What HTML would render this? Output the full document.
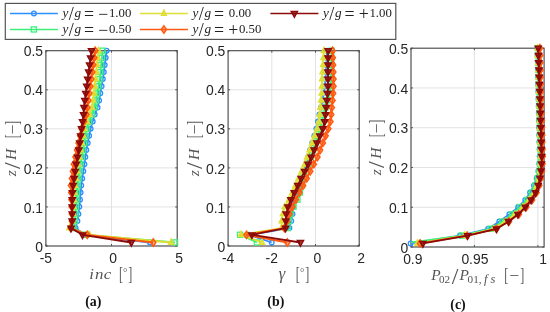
<!DOCTYPE html>
<html><head><meta charset="utf-8"><title>Figure</title>
<style>html,body{margin:0;padding:0;background:#fff}svg{display:block}text{white-space:pre}</style></head>
<body>
<svg width="550" height="312" viewBox="0 0 550 312">
<style>
.tk{font-family:"Liberation Sans",sans-serif;font-size:13.9px;fill:#262626}
.lb{font-family:"Liberation Serif",serif;font-size:14px;fill:#555}
.lg{font-family:"Liberation Serif",serif;font-size:12.8px;fill:#222}
.cap{font-family:"Liberation Serif",serif;font-weight:bold;font-size:13.9px;fill:#111}
i{font-style:italic}
</style>
<rect width="550" height="312" fill="#fff"/>
<rect x="45.9" y="50.7" width="131.29999999999998" height="195.3" fill="#fff"/>
<line x1="111.5" y1="50.7" x2="111.5" y2="246.0" stroke="#dfdfdf" stroke-width="0.9"/>
<line x1="45.9" y1="206.94" x2="177.2" y2="206.94" stroke="#dfdfdf" stroke-width="0.9"/>
<line x1="45.9" y1="167.88" x2="177.2" y2="167.88" stroke="#dfdfdf" stroke-width="0.9"/>
<line x1="45.9" y1="128.82" x2="177.2" y2="128.82" stroke="#dfdfdf" stroke-width="0.9"/>
<line x1="45.9" y1="89.75999999999999" x2="177.2" y2="89.75999999999999" stroke="#dfdfdf" stroke-width="0.9"/>
<rect x="45.9" y="50.7" width="131.29999999999998" height="195.3" fill="none" stroke="#4a4a4a" stroke-width="1.15"/>
<line x1="45.9" y1="246.0" x2="45.9" y2="244.0" stroke="#4a4a4a" stroke-width="0.9"/>
<line x1="45.9" y1="50.7" x2="45.9" y2="52.7" stroke="#4a4a4a" stroke-width="0.9"/>
<line x1="111.5" y1="246.0" x2="111.5" y2="244.0" stroke="#4a4a4a" stroke-width="0.9"/>
<line x1="111.5" y1="50.7" x2="111.5" y2="52.7" stroke="#4a4a4a" stroke-width="0.9"/>
<line x1="177.2" y1="246.0" x2="177.2" y2="244.0" stroke="#4a4a4a" stroke-width="0.9"/>
<line x1="177.2" y1="50.7" x2="177.2" y2="52.7" stroke="#4a4a4a" stroke-width="0.9"/>
<line x1="45.9" y1="246.0" x2="47.9" y2="246.0" stroke="#4a4a4a" stroke-width="0.9"/>
<line x1="177.2" y1="246.0" x2="175.2" y2="246.0" stroke="#4a4a4a" stroke-width="0.9"/>
<line x1="45.9" y1="206.94" x2="47.9" y2="206.94" stroke="#4a4a4a" stroke-width="0.9"/>
<line x1="177.2" y1="206.94" x2="175.2" y2="206.94" stroke="#4a4a4a" stroke-width="0.9"/>
<line x1="45.9" y1="167.88" x2="47.9" y2="167.88" stroke="#4a4a4a" stroke-width="0.9"/>
<line x1="177.2" y1="167.88" x2="175.2" y2="167.88" stroke="#4a4a4a" stroke-width="0.9"/>
<line x1="45.9" y1="128.82" x2="47.9" y2="128.82" stroke="#4a4a4a" stroke-width="0.9"/>
<line x1="177.2" y1="128.82" x2="175.2" y2="128.82" stroke="#4a4a4a" stroke-width="0.9"/>
<line x1="45.9" y1="89.75999999999999" x2="47.9" y2="89.75999999999999" stroke="#4a4a4a" stroke-width="0.9"/>
<line x1="177.2" y1="89.75999999999999" x2="175.2" y2="89.75999999999999" stroke="#4a4a4a" stroke-width="0.9"/>
<line x1="45.9" y1="50.69999999999999" x2="47.9" y2="50.69999999999999" stroke="#4a4a4a" stroke-width="0.9"/>
<line x1="177.2" y1="50.69999999999999" x2="175.2" y2="50.69999999999999" stroke="#4a4a4a" stroke-width="0.9"/>
<clipPath id="ca"><rect x="45.9" y="50.7" width="131.29999999999998" height="195.3"/></clipPath>
<polyline points="149.9,242.5 85.0,234.8 75.6,228.1 77.4,221.0 78.4,213.9 79.3,206.8 80.0,199.7 80.6,192.6 81.2,185.5 82.2,178.4 83.3,171.3 84.4,164.2 85.3,157.1 86.3,150.0 87.7,142.9 89.1,135.8 90.6,128.7 92.7,121.6 94.7,114.6 97.6,107.5 99.1,100.4 100.3,93.3 101.6,86.2 102.8,79.1 103.8,72.0 104.7,64.9 105.7,57.8 106.6,50.7" fill="none" stroke="#2e8fff" stroke-width="1.8" stroke-linejoin="round" clip-path="url(#ca)"/>
<circle cx="149.9" cy="242.5" r="2.35" fill="none" stroke="#2e8fff" stroke-width="1.3"/>
<circle cx="85.0" cy="234.8" r="2.35" fill="none" stroke="#2e8fff" stroke-width="1.3"/>
<circle cx="75.6" cy="228.1" r="2.35" fill="none" stroke="#2e8fff" stroke-width="1.3"/>
<circle cx="77.4" cy="221.0" r="2.35" fill="none" stroke="#2e8fff" stroke-width="1.3"/>
<circle cx="78.4" cy="213.9" r="2.35" fill="none" stroke="#2e8fff" stroke-width="1.3"/>
<circle cx="79.3" cy="206.8" r="2.35" fill="none" stroke="#2e8fff" stroke-width="1.3"/>
<circle cx="80.0" cy="199.7" r="2.35" fill="none" stroke="#2e8fff" stroke-width="1.3"/>
<circle cx="80.6" cy="192.6" r="2.35" fill="none" stroke="#2e8fff" stroke-width="1.3"/>
<circle cx="81.2" cy="185.5" r="2.35" fill="none" stroke="#2e8fff" stroke-width="1.3"/>
<circle cx="82.2" cy="178.4" r="2.35" fill="none" stroke="#2e8fff" stroke-width="1.3"/>
<circle cx="83.3" cy="171.3" r="2.35" fill="none" stroke="#2e8fff" stroke-width="1.3"/>
<circle cx="84.4" cy="164.2" r="2.35" fill="none" stroke="#2e8fff" stroke-width="1.3"/>
<circle cx="85.3" cy="157.1" r="2.35" fill="none" stroke="#2e8fff" stroke-width="1.3"/>
<circle cx="86.3" cy="150.0" r="2.35" fill="none" stroke="#2e8fff" stroke-width="1.3"/>
<circle cx="87.7" cy="142.9" r="2.35" fill="none" stroke="#2e8fff" stroke-width="1.3"/>
<circle cx="89.1" cy="135.8" r="2.35" fill="none" stroke="#2e8fff" stroke-width="1.3"/>
<circle cx="90.6" cy="128.7" r="2.35" fill="none" stroke="#2e8fff" stroke-width="1.3"/>
<circle cx="92.7" cy="121.6" r="2.35" fill="none" stroke="#2e8fff" stroke-width="1.3"/>
<circle cx="94.7" cy="114.6" r="2.35" fill="none" stroke="#2e8fff" stroke-width="1.3"/>
<circle cx="97.6" cy="107.5" r="2.35" fill="none" stroke="#2e8fff" stroke-width="1.3"/>
<circle cx="99.1" cy="100.4" r="2.35" fill="none" stroke="#2e8fff" stroke-width="1.3"/>
<circle cx="100.3" cy="93.3" r="2.35" fill="none" stroke="#2e8fff" stroke-width="1.3"/>
<circle cx="101.6" cy="86.2" r="2.35" fill="none" stroke="#2e8fff" stroke-width="1.3"/>
<circle cx="102.8" cy="79.1" r="2.35" fill="none" stroke="#2e8fff" stroke-width="1.3"/>
<circle cx="103.8" cy="72.0" r="2.35" fill="none" stroke="#2e8fff" stroke-width="1.3"/>
<circle cx="104.7" cy="64.9" r="2.35" fill="none" stroke="#2e8fff" stroke-width="1.3"/>
<circle cx="105.7" cy="57.8" r="2.35" fill="none" stroke="#2e8fff" stroke-width="1.3"/>
<circle cx="106.6" cy="50.7" r="2.35" fill="none" stroke="#2e8fff" stroke-width="1.3"/>
<polyline points="175.0,242.5 86.0,234.8 73.4,228.1 74.8,221.0 75.4,213.9 76.0,206.8 76.4,199.7 76.9,192.6 77.5,185.5 78.5,178.4 79.5,171.3 80.5,164.2 81.8,157.1 83.0,150.0 84.2,142.9 85.4,135.8 86.6,128.7 89.2,121.6 91.8,114.6 94.6,107.5 96.0,100.4 97.2,93.3 98.4,86.2 99.6,79.1 100.4,72.0 101.1,64.9 101.9,57.8 102.6,50.7" fill="none" stroke="#3df07a" stroke-width="1.8" stroke-linejoin="round" clip-path="url(#ca)"/>
<rect x="172.5" y="239.9" width="5.1" height="5.1" fill="none" stroke="#3df07a" stroke-width="1.3"/>
<rect x="83.4" y="232.2" width="5.1" height="5.1" fill="none" stroke="#3df07a" stroke-width="1.3"/>
<rect x="70.9" y="225.5" width="5.1" height="5.1" fill="none" stroke="#3df07a" stroke-width="1.3"/>
<rect x="72.3" y="218.4" width="5.1" height="5.1" fill="none" stroke="#3df07a" stroke-width="1.3"/>
<rect x="72.9" y="211.3" width="5.1" height="5.1" fill="none" stroke="#3df07a" stroke-width="1.3"/>
<rect x="73.4" y="204.2" width="5.1" height="5.1" fill="none" stroke="#3df07a" stroke-width="1.3"/>
<rect x="73.9" y="197.1" width="5.1" height="5.1" fill="none" stroke="#3df07a" stroke-width="1.3"/>
<rect x="74.3" y="190.0" width="5.1" height="5.1" fill="none" stroke="#3df07a" stroke-width="1.3"/>
<rect x="75.0" y="183.0" width="5.1" height="5.1" fill="none" stroke="#3df07a" stroke-width="1.3"/>
<rect x="75.9" y="175.9" width="5.1" height="5.1" fill="none" stroke="#3df07a" stroke-width="1.3"/>
<rect x="76.9" y="168.8" width="5.1" height="5.1" fill="none" stroke="#3df07a" stroke-width="1.3"/>
<rect x="77.9" y="161.7" width="5.1" height="5.1" fill="none" stroke="#3df07a" stroke-width="1.3"/>
<rect x="79.2" y="154.6" width="5.1" height="5.1" fill="none" stroke="#3df07a" stroke-width="1.3"/>
<rect x="80.5" y="147.5" width="5.1" height="5.1" fill="none" stroke="#3df07a" stroke-width="1.3"/>
<rect x="81.7" y="140.4" width="5.1" height="5.1" fill="none" stroke="#3df07a" stroke-width="1.3"/>
<rect x="82.9" y="133.3" width="5.1" height="5.1" fill="none" stroke="#3df07a" stroke-width="1.3"/>
<rect x="84.0" y="126.2" width="5.1" height="5.1" fill="none" stroke="#3df07a" stroke-width="1.3"/>
<rect x="86.7" y="119.1" width="5.1" height="5.1" fill="none" stroke="#3df07a" stroke-width="1.3"/>
<rect x="89.3" y="112.0" width="5.1" height="5.1" fill="none" stroke="#3df07a" stroke-width="1.3"/>
<rect x="92.0" y="104.9" width="5.1" height="5.1" fill="none" stroke="#3df07a" stroke-width="1.3"/>
<rect x="93.5" y="97.8" width="5.1" height="5.1" fill="none" stroke="#3df07a" stroke-width="1.3"/>
<rect x="94.6" y="90.7" width="5.1" height="5.1" fill="none" stroke="#3df07a" stroke-width="1.3"/>
<rect x="95.8" y="83.6" width="5.1" height="5.1" fill="none" stroke="#3df07a" stroke-width="1.3"/>
<rect x="97.0" y="76.5" width="5.1" height="5.1" fill="none" stroke="#3df07a" stroke-width="1.3"/>
<rect x="97.8" y="69.4" width="5.1" height="5.1" fill="none" stroke="#3df07a" stroke-width="1.3"/>
<rect x="98.6" y="62.3" width="5.1" height="5.1" fill="none" stroke="#3df07a" stroke-width="1.3"/>
<rect x="99.3" y="55.2" width="5.1" height="5.1" fill="none" stroke="#3df07a" stroke-width="1.3"/>
<rect x="100.0" y="48.1" width="5.1" height="5.1" fill="none" stroke="#3df07a" stroke-width="1.3"/>
<polyline points="171.1,242.5 89.5,234.8 69.4,228.1 72.4,221.0 73.1,213.9 73.5,206.8 73.9,199.7 74.3,192.6 74.9,185.5 75.9,178.4 77.0,171.3 78.1,164.2 79.4,157.1 80.6,150.0 81.8,142.9 83.0,135.8 84.2,128.7 86.9,121.6 89.6,114.6 92.0,107.5 93.1,100.4 93.9,93.3 94.7,86.2 95.5,79.1 96.3,72.0 97.1,64.9 97.8,57.8 98.6,50.7" fill="none" stroke="#dede35" stroke-width="1.8" stroke-linejoin="round" clip-path="url(#ca)"/>
<path d="M168.7 244.2L173.6 244.2L171.1 239.3Z" fill="#dede35" fill-opacity="0.55" stroke="#dede35" stroke-width="1.5"/>
<path d="M87.0 236.5L91.9 236.5L89.5 231.6Z" fill="#dede35" fill-opacity="0.55" stroke="#dede35" stroke-width="1.5"/>
<path d="M67.0 229.8L71.9 229.8L69.4 224.9Z" fill="#dede35" fill-opacity="0.55" stroke="#dede35" stroke-width="1.5"/>
<path d="M69.9 222.7L74.8 222.7L72.4 217.8Z" fill="#dede35" fill-opacity="0.55" stroke="#dede35" stroke-width="1.5"/>
<path d="M70.7 215.6L75.6 215.6L73.1 210.7Z" fill="#dede35" fill-opacity="0.55" stroke="#dede35" stroke-width="1.5"/>
<path d="M71.0 208.5L75.9 208.5L73.5 203.6Z" fill="#dede35" fill-opacity="0.55" stroke="#dede35" stroke-width="1.5"/>
<path d="M71.4 201.4L76.3 201.4L73.9 196.5Z" fill="#dede35" fill-opacity="0.55" stroke="#dede35" stroke-width="1.5"/>
<path d="M71.8 194.3L76.7 194.3L74.3 189.4Z" fill="#dede35" fill-opacity="0.55" stroke="#dede35" stroke-width="1.5"/>
<path d="M72.5 187.3L77.4 187.3L74.9 182.4Z" fill="#dede35" fill-opacity="0.55" stroke="#dede35" stroke-width="1.5"/>
<path d="M73.5 180.2L78.4 180.2L75.9 175.3Z" fill="#dede35" fill-opacity="0.55" stroke="#dede35" stroke-width="1.5"/>
<path d="M74.6 173.1L79.5 173.1L77.0 168.2Z" fill="#dede35" fill-opacity="0.55" stroke="#dede35" stroke-width="1.5"/>
<path d="M75.6 166.0L80.5 166.0L78.1 161.1Z" fill="#dede35" fill-opacity="0.55" stroke="#dede35" stroke-width="1.5"/>
<path d="M76.9 158.9L81.8 158.9L79.4 154.0Z" fill="#dede35" fill-opacity="0.55" stroke="#dede35" stroke-width="1.5"/>
<path d="M78.2 151.8L83.1 151.8L80.6 146.9Z" fill="#dede35" fill-opacity="0.55" stroke="#dede35" stroke-width="1.5"/>
<path d="M79.4 144.7L84.3 144.7L81.8 139.8Z" fill="#dede35" fill-opacity="0.55" stroke="#dede35" stroke-width="1.5"/>
<path d="M80.6 137.6L85.5 137.6L83.0 132.7Z" fill="#dede35" fill-opacity="0.55" stroke="#dede35" stroke-width="1.5"/>
<path d="M81.7 130.5L86.6 130.5L84.2 125.6Z" fill="#dede35" fill-opacity="0.55" stroke="#dede35" stroke-width="1.5"/>
<path d="M84.5 123.4L89.4 123.4L86.9 118.5Z" fill="#dede35" fill-opacity="0.55" stroke="#dede35" stroke-width="1.5"/>
<path d="M87.2 116.3L92.1 116.3L89.6 111.4Z" fill="#dede35" fill-opacity="0.55" stroke="#dede35" stroke-width="1.5"/>
<path d="M89.6 109.2L94.5 109.2L92.0 104.3Z" fill="#dede35" fill-opacity="0.55" stroke="#dede35" stroke-width="1.5"/>
<path d="M90.6 102.1L95.5 102.1L93.1 97.2Z" fill="#dede35" fill-opacity="0.55" stroke="#dede35" stroke-width="1.5"/>
<path d="M91.4 95.0L96.3 95.0L93.9 90.1Z" fill="#dede35" fill-opacity="0.55" stroke="#dede35" stroke-width="1.5"/>
<path d="M92.2 87.9L97.1 87.9L94.7 83.0Z" fill="#dede35" fill-opacity="0.55" stroke="#dede35" stroke-width="1.5"/>
<path d="M93.1 80.8L98.0 80.8L95.5 75.9Z" fill="#dede35" fill-opacity="0.55" stroke="#dede35" stroke-width="1.5"/>
<path d="M93.8 73.7L98.7 73.7L96.3 68.8Z" fill="#dede35" fill-opacity="0.55" stroke="#dede35" stroke-width="1.5"/>
<path d="M94.6 66.6L99.5 66.6L97.1 61.7Z" fill="#dede35" fill-opacity="0.55" stroke="#dede35" stroke-width="1.5"/>
<path d="M95.4 59.5L100.3 59.5L97.8 54.6Z" fill="#dede35" fill-opacity="0.55" stroke="#dede35" stroke-width="1.5"/>
<path d="M96.1 52.4L101.0 52.4L98.6 47.5Z" fill="#dede35" fill-opacity="0.55" stroke="#dede35" stroke-width="1.5"/>
<polyline points="153.3,242.5 87.3,234.8 70.8,228.1 71.9,221.0 71.9,213.9 71.7,206.8 71.5,199.7 71.2,192.6 71.0,185.5 71.9,178.4 72.9,171.3 73.9,164.2 75.5,157.1 77.1,150.0 78.6,142.9 80.1,135.8 81.6,128.7 84.0,121.6 86.4,114.6 87.4,107.5 88.3,100.4 89.3,93.3 90.3,86.2 91.3,79.1 92.3,72.0 93.2,64.9 94.2,57.8 95.2,50.7" fill="none" stroke="#ff5a10" stroke-width="1.8" stroke-linejoin="round" clip-path="url(#ca)"/>
<path d="M153.3 238.9L155.9 242.5L153.3 246.1L150.7 242.5Z" fill="#ff5a10" fill-opacity="0.45" stroke="#ff5a10" stroke-width="1.5"/>
<path d="M87.3 231.2L89.9 234.8L87.3 238.4L84.7 234.8Z" fill="#ff5a10" fill-opacity="0.45" stroke="#ff5a10" stroke-width="1.5"/>
<path d="M70.8 224.5L73.4 228.1L70.8 231.7L68.2 228.1Z" fill="#ff5a10" fill-opacity="0.45" stroke="#ff5a10" stroke-width="1.5"/>
<path d="M71.9 217.4L74.5 221.0L71.9 224.6L69.3 221.0Z" fill="#ff5a10" fill-opacity="0.45" stroke="#ff5a10" stroke-width="1.5"/>
<path d="M71.9 210.3L74.5 213.9L71.9 217.5L69.3 213.9Z" fill="#ff5a10" fill-opacity="0.45" stroke="#ff5a10" stroke-width="1.5"/>
<path d="M71.7 203.2L74.3 206.8L71.7 210.4L69.1 206.8Z" fill="#ff5a10" fill-opacity="0.45" stroke="#ff5a10" stroke-width="1.5"/>
<path d="M71.5 196.1L74.1 199.7L71.5 203.3L68.9 199.7Z" fill="#ff5a10" fill-opacity="0.45" stroke="#ff5a10" stroke-width="1.5"/>
<path d="M71.2 189.0L73.8 192.6L71.2 196.2L68.6 192.6Z" fill="#ff5a10" fill-opacity="0.45" stroke="#ff5a10" stroke-width="1.5"/>
<path d="M71.0 181.9L73.6 185.5L71.0 189.1L68.4 185.5Z" fill="#ff5a10" fill-opacity="0.45" stroke="#ff5a10" stroke-width="1.5"/>
<path d="M71.9 174.8L74.5 178.4L71.9 182.0L69.3 178.4Z" fill="#ff5a10" fill-opacity="0.45" stroke="#ff5a10" stroke-width="1.5"/>
<path d="M72.9 167.7L75.5 171.3L72.9 174.9L70.3 171.3Z" fill="#ff5a10" fill-opacity="0.45" stroke="#ff5a10" stroke-width="1.5"/>
<path d="M73.9 160.6L76.5 164.2L73.9 167.8L71.3 164.2Z" fill="#ff5a10" fill-opacity="0.45" stroke="#ff5a10" stroke-width="1.5"/>
<path d="M75.5 153.5L78.1 157.1L75.5 160.7L72.9 157.1Z" fill="#ff5a10" fill-opacity="0.45" stroke="#ff5a10" stroke-width="1.5"/>
<path d="M77.1 146.4L79.7 150.0L77.1 153.6L74.5 150.0Z" fill="#ff5a10" fill-opacity="0.45" stroke="#ff5a10" stroke-width="1.5"/>
<path d="M78.6 139.3L81.2 142.9L78.6 146.5L76.0 142.9Z" fill="#ff5a10" fill-opacity="0.45" stroke="#ff5a10" stroke-width="1.5"/>
<path d="M80.1 132.2L82.7 135.8L80.1 139.4L77.5 135.8Z" fill="#ff5a10" fill-opacity="0.45" stroke="#ff5a10" stroke-width="1.5"/>
<path d="M81.6 125.1L84.2 128.7L81.6 132.3L79.0 128.7Z" fill="#ff5a10" fill-opacity="0.45" stroke="#ff5a10" stroke-width="1.5"/>
<path d="M84.0 118.0L86.6 121.6L84.0 125.2L81.4 121.6Z" fill="#ff5a10" fill-opacity="0.45" stroke="#ff5a10" stroke-width="1.5"/>
<path d="M86.4 111.0L89.0 114.6L86.4 118.2L83.8 114.6Z" fill="#ff5a10" fill-opacity="0.45" stroke="#ff5a10" stroke-width="1.5"/>
<path d="M87.4 103.9L90.0 107.5L87.4 111.1L84.8 107.5Z" fill="#ff5a10" fill-opacity="0.45" stroke="#ff5a10" stroke-width="1.5"/>
<path d="M88.3 96.8L90.9 100.4L88.3 104.0L85.7 100.4Z" fill="#ff5a10" fill-opacity="0.45" stroke="#ff5a10" stroke-width="1.5"/>
<path d="M89.3 89.7L91.9 93.3L89.3 96.9L86.7 93.3Z" fill="#ff5a10" fill-opacity="0.45" stroke="#ff5a10" stroke-width="1.5"/>
<path d="M90.3 82.6L92.9 86.2L90.3 89.8L87.7 86.2Z" fill="#ff5a10" fill-opacity="0.45" stroke="#ff5a10" stroke-width="1.5"/>
<path d="M91.3 75.5L93.9 79.1L91.3 82.7L88.7 79.1Z" fill="#ff5a10" fill-opacity="0.45" stroke="#ff5a10" stroke-width="1.5"/>
<path d="M92.3 68.4L94.9 72.0L92.3 75.6L89.7 72.0Z" fill="#ff5a10" fill-opacity="0.45" stroke="#ff5a10" stroke-width="1.5"/>
<path d="M93.2 61.3L95.8 64.9L93.2 68.5L90.6 64.9Z" fill="#ff5a10" fill-opacity="0.45" stroke="#ff5a10" stroke-width="1.5"/>
<path d="M94.2 54.2L96.8 57.8L94.2 61.4L91.6 57.8Z" fill="#ff5a10" fill-opacity="0.45" stroke="#ff5a10" stroke-width="1.5"/>
<path d="M95.2 47.1L97.8 50.7L95.2 54.3L92.6 50.7Z" fill="#ff5a10" fill-opacity="0.45" stroke="#ff5a10" stroke-width="1.5"/>
<polyline points="131.3,242.5 82.5,234.8 71.0,228.1 72.1,221.0 72.2,213.9 72.1,206.8 72.3,199.7 72.5,192.6 73.1,185.5 74.1,178.4 75.2,171.3 76.3,164.2 77.6,157.1 78.8,150.0 79.8,142.9 80.7,135.8 81.6,128.7 82.6,121.6 83.5,114.6 83.9,107.5 84.8,100.4 85.8,93.3 86.7,86.2 87.7,79.1 88.6,72.0 89.6,64.9 90.5,57.8 91.5,50.7" fill="none" stroke="#8c0a0a" stroke-width="1.8" stroke-linejoin="round" clip-path="url(#ca)"/>
<path d="M128.3 240.6L134.4 240.6L131.3 246.2Z" fill="#8c0a0a" fill-opacity="0.75" stroke="#8c0a0a" stroke-width="1.5"/>
<path d="M79.4 232.9L85.5 232.9L82.5 238.5Z" fill="#8c0a0a" fill-opacity="0.75" stroke="#8c0a0a" stroke-width="1.5"/>
<path d="M68.0 226.2L74.1 226.2L71.0 231.8Z" fill="#8c0a0a" fill-opacity="0.75" stroke="#8c0a0a" stroke-width="1.5"/>
<path d="M69.1 219.1L75.2 219.1L72.1 224.7Z" fill="#8c0a0a" fill-opacity="0.75" stroke="#8c0a0a" stroke-width="1.5"/>
<path d="M69.2 212.0L75.3 212.0L72.2 217.6Z" fill="#8c0a0a" fill-opacity="0.75" stroke="#8c0a0a" stroke-width="1.5"/>
<path d="M69.1 204.9L75.2 204.9L72.1 210.5Z" fill="#8c0a0a" fill-opacity="0.75" stroke="#8c0a0a" stroke-width="1.5"/>
<path d="M69.2 197.8L75.3 197.8L72.3 203.4Z" fill="#8c0a0a" fill-opacity="0.75" stroke="#8c0a0a" stroke-width="1.5"/>
<path d="M69.4 190.7L75.5 190.7L72.5 196.3Z" fill="#8c0a0a" fill-opacity="0.75" stroke="#8c0a0a" stroke-width="1.5"/>
<path d="M70.1 183.6L76.2 183.6L73.1 189.2Z" fill="#8c0a0a" fill-opacity="0.75" stroke="#8c0a0a" stroke-width="1.5"/>
<path d="M71.1 176.5L77.2 176.5L74.1 182.1Z" fill="#8c0a0a" fill-opacity="0.75" stroke="#8c0a0a" stroke-width="1.5"/>
<path d="M72.2 169.4L78.3 169.4L75.2 175.0Z" fill="#8c0a0a" fill-opacity="0.75" stroke="#8c0a0a" stroke-width="1.5"/>
<path d="M73.2 162.3L79.3 162.3L76.3 167.9Z" fill="#8c0a0a" fill-opacity="0.75" stroke="#8c0a0a" stroke-width="1.5"/>
<path d="M74.5 155.2L80.6 155.2L77.6 160.8Z" fill="#8c0a0a" fill-opacity="0.75" stroke="#8c0a0a" stroke-width="1.5"/>
<path d="M75.8 148.1L81.9 148.1L78.8 153.7Z" fill="#8c0a0a" fill-opacity="0.75" stroke="#8c0a0a" stroke-width="1.5"/>
<path d="M76.7 141.0L82.8 141.0L79.8 146.6Z" fill="#8c0a0a" fill-opacity="0.75" stroke="#8c0a0a" stroke-width="1.5"/>
<path d="M77.6 133.9L83.7 133.9L80.7 139.5Z" fill="#8c0a0a" fill-opacity="0.75" stroke="#8c0a0a" stroke-width="1.5"/>
<path d="M78.5 126.8L84.6 126.8L81.6 132.4Z" fill="#8c0a0a" fill-opacity="0.75" stroke="#8c0a0a" stroke-width="1.5"/>
<path d="M79.5 119.7L85.6 119.7L82.6 125.3Z" fill="#8c0a0a" fill-opacity="0.75" stroke="#8c0a0a" stroke-width="1.5"/>
<path d="M80.5 112.7L86.6 112.7L83.5 118.3Z" fill="#8c0a0a" fill-opacity="0.75" stroke="#8c0a0a" stroke-width="1.5"/>
<path d="M80.9 105.6L87.0 105.6L83.9 111.2Z" fill="#8c0a0a" fill-opacity="0.75" stroke="#8c0a0a" stroke-width="1.5"/>
<path d="M81.8 98.5L87.9 98.5L84.8 104.1Z" fill="#8c0a0a" fill-opacity="0.75" stroke="#8c0a0a" stroke-width="1.5"/>
<path d="M82.7 91.4L88.8 91.4L85.8 97.0Z" fill="#8c0a0a" fill-opacity="0.75" stroke="#8c0a0a" stroke-width="1.5"/>
<path d="M83.7 84.3L89.8 84.3L86.7 89.9Z" fill="#8c0a0a" fill-opacity="0.75" stroke="#8c0a0a" stroke-width="1.5"/>
<path d="M84.6 77.2L90.7 77.2L87.7 82.8Z" fill="#8c0a0a" fill-opacity="0.75" stroke="#8c0a0a" stroke-width="1.5"/>
<path d="M85.6 70.1L91.7 70.1L88.6 75.7Z" fill="#8c0a0a" fill-opacity="0.75" stroke="#8c0a0a" stroke-width="1.5"/>
<path d="M86.5 63.0L92.6 63.0L89.6 68.6Z" fill="#8c0a0a" fill-opacity="0.75" stroke="#8c0a0a" stroke-width="1.5"/>
<path d="M87.5 55.9L93.6 55.9L90.5 61.5Z" fill="#8c0a0a" fill-opacity="0.75" stroke="#8c0a0a" stroke-width="1.5"/>
<path d="M88.5 48.8L94.5 48.8L91.5 54.4Z" fill="#8c0a0a" fill-opacity="0.75" stroke="#8c0a0a" stroke-width="1.5"/>
<text x="45.9" y="263.4" text-anchor="middle" class="tk">-5</text>
<text x="113.1" y="263.4" text-anchor="middle" class="tk">0</text>
<text x="179.1" y="263.4" text-anchor="middle" class="tk">5</text>
<text x="43.1" y="251.6" text-anchor="end" class="tk">0</text>
<text x="43.1" y="212.5" text-anchor="end" class="tk">0.1</text>
<text x="43.1" y="173.5" text-anchor="end" class="tk">0.2</text>
<text x="43.1" y="134.4" text-anchor="end" class="tk">0.3</text>
<text x="43.1" y="95.4" text-anchor="end" class="tk">0.4</text>
<text x="43.1" y="56.3" text-anchor="end" class="tk">0.5</text>
<rect x="228.1" y="50.7" width="131.1" height="195.3" fill="#fff"/>
<line x1="271.8" y1="50.7" x2="271.8" y2="246.0" stroke="#dfdfdf" stroke-width="0.9"/>
<line x1="315.5" y1="50.7" x2="315.5" y2="246.0" stroke="#dfdfdf" stroke-width="0.9"/>
<line x1="228.1" y1="206.94" x2="359.2" y2="206.94" stroke="#dfdfdf" stroke-width="0.9"/>
<line x1="228.1" y1="167.88" x2="359.2" y2="167.88" stroke="#dfdfdf" stroke-width="0.9"/>
<line x1="228.1" y1="128.82" x2="359.2" y2="128.82" stroke="#dfdfdf" stroke-width="0.9"/>
<line x1="228.1" y1="89.75999999999999" x2="359.2" y2="89.75999999999999" stroke="#dfdfdf" stroke-width="0.9"/>
<rect x="228.1" y="50.7" width="131.1" height="195.3" fill="none" stroke="#4a4a4a" stroke-width="1.15"/>
<line x1="228.1" y1="246.0" x2="228.1" y2="244.0" stroke="#4a4a4a" stroke-width="0.9"/>
<line x1="228.1" y1="50.7" x2="228.1" y2="52.7" stroke="#4a4a4a" stroke-width="0.9"/>
<line x1="271.8" y1="246.0" x2="271.8" y2="244.0" stroke="#4a4a4a" stroke-width="0.9"/>
<line x1="271.8" y1="50.7" x2="271.8" y2="52.7" stroke="#4a4a4a" stroke-width="0.9"/>
<line x1="315.5" y1="246.0" x2="315.5" y2="244.0" stroke="#4a4a4a" stroke-width="0.9"/>
<line x1="315.5" y1="50.7" x2="315.5" y2="52.7" stroke="#4a4a4a" stroke-width="0.9"/>
<line x1="359.20000000000005" y1="246.0" x2="359.20000000000005" y2="244.0" stroke="#4a4a4a" stroke-width="0.9"/>
<line x1="359.20000000000005" y1="50.7" x2="359.20000000000005" y2="52.7" stroke="#4a4a4a" stroke-width="0.9"/>
<line x1="228.1" y1="246.0" x2="230.1" y2="246.0" stroke="#4a4a4a" stroke-width="0.9"/>
<line x1="359.2" y1="246.0" x2="357.2" y2="246.0" stroke="#4a4a4a" stroke-width="0.9"/>
<line x1="228.1" y1="206.94" x2="230.1" y2="206.94" stroke="#4a4a4a" stroke-width="0.9"/>
<line x1="359.2" y1="206.94" x2="357.2" y2="206.94" stroke="#4a4a4a" stroke-width="0.9"/>
<line x1="228.1" y1="167.88" x2="230.1" y2="167.88" stroke="#4a4a4a" stroke-width="0.9"/>
<line x1="359.2" y1="167.88" x2="357.2" y2="167.88" stroke="#4a4a4a" stroke-width="0.9"/>
<line x1="228.1" y1="128.82" x2="230.1" y2="128.82" stroke="#4a4a4a" stroke-width="0.9"/>
<line x1="359.2" y1="128.82" x2="357.2" y2="128.82" stroke="#4a4a4a" stroke-width="0.9"/>
<line x1="228.1" y1="89.75999999999999" x2="230.1" y2="89.75999999999999" stroke="#4a4a4a" stroke-width="0.9"/>
<line x1="359.2" y1="89.75999999999999" x2="357.2" y2="89.75999999999999" stroke="#4a4a4a" stroke-width="0.9"/>
<line x1="228.1" y1="50.69999999999999" x2="230.1" y2="50.69999999999999" stroke="#4a4a4a" stroke-width="0.9"/>
<line x1="359.2" y1="50.69999999999999" x2="357.2" y2="50.69999999999999" stroke="#4a4a4a" stroke-width="0.9"/>
<clipPath id="cb"><rect x="228.1" y="50.7" width="131.1" height="195.3"/></clipPath>
<polyline points="271.7,242.5 249.1,234.8 289.4,228.1 291.2,221.0 292.5,213.9 293.0,206.8 294.3,199.7 296.4,192.6 298.8,185.5 301.1,178.4 303.5,171.3 305.9,164.2 308.1,157.1 310.2,150.0 312.3,142.9 314.4,135.8 316.4,128.7 318.0,121.6 319.5,114.6 320.9,107.5 322.3,100.4 323.7,93.3 325.0,86.2 325.6,79.1 326.0,72.0 326.3,64.9 326.7,57.8 327.0,50.7" fill="none" stroke="#2e8fff" stroke-width="1.8" stroke-linejoin="round" clip-path="url(#cb)"/>
<circle cx="271.7" cy="242.5" r="2.35" fill="none" stroke="#2e8fff" stroke-width="1.3"/>
<circle cx="249.1" cy="234.8" r="2.35" fill="none" stroke="#2e8fff" stroke-width="1.3"/>
<circle cx="289.4" cy="228.1" r="2.35" fill="none" stroke="#2e8fff" stroke-width="1.3"/>
<circle cx="291.2" cy="221.0" r="2.35" fill="none" stroke="#2e8fff" stroke-width="1.3"/>
<circle cx="292.5" cy="213.9" r="2.35" fill="none" stroke="#2e8fff" stroke-width="1.3"/>
<circle cx="293.0" cy="206.8" r="2.35" fill="none" stroke="#2e8fff" stroke-width="1.3"/>
<circle cx="294.3" cy="199.7" r="2.35" fill="none" stroke="#2e8fff" stroke-width="1.3"/>
<circle cx="296.4" cy="192.6" r="2.35" fill="none" stroke="#2e8fff" stroke-width="1.3"/>
<circle cx="298.8" cy="185.5" r="2.35" fill="none" stroke="#2e8fff" stroke-width="1.3"/>
<circle cx="301.1" cy="178.4" r="2.35" fill="none" stroke="#2e8fff" stroke-width="1.3"/>
<circle cx="303.5" cy="171.3" r="2.35" fill="none" stroke="#2e8fff" stroke-width="1.3"/>
<circle cx="305.9" cy="164.2" r="2.35" fill="none" stroke="#2e8fff" stroke-width="1.3"/>
<circle cx="308.1" cy="157.1" r="2.35" fill="none" stroke="#2e8fff" stroke-width="1.3"/>
<circle cx="310.2" cy="150.0" r="2.35" fill="none" stroke="#2e8fff" stroke-width="1.3"/>
<circle cx="312.3" cy="142.9" r="2.35" fill="none" stroke="#2e8fff" stroke-width="1.3"/>
<circle cx="314.4" cy="135.8" r="2.35" fill="none" stroke="#2e8fff" stroke-width="1.3"/>
<circle cx="316.4" cy="128.7" r="2.35" fill="none" stroke="#2e8fff" stroke-width="1.3"/>
<circle cx="318.0" cy="121.6" r="2.35" fill="none" stroke="#2e8fff" stroke-width="1.3"/>
<circle cx="319.5" cy="114.6" r="2.35" fill="none" stroke="#2e8fff" stroke-width="1.3"/>
<circle cx="320.9" cy="107.5" r="2.35" fill="none" stroke="#2e8fff" stroke-width="1.3"/>
<circle cx="322.3" cy="100.4" r="2.35" fill="none" stroke="#2e8fff" stroke-width="1.3"/>
<circle cx="323.7" cy="93.3" r="2.35" fill="none" stroke="#2e8fff" stroke-width="1.3"/>
<circle cx="325.0" cy="86.2" r="2.35" fill="none" stroke="#2e8fff" stroke-width="1.3"/>
<circle cx="325.6" cy="79.1" r="2.35" fill="none" stroke="#2e8fff" stroke-width="1.3"/>
<circle cx="326.0" cy="72.0" r="2.35" fill="none" stroke="#2e8fff" stroke-width="1.3"/>
<circle cx="326.3" cy="64.9" r="2.35" fill="none" stroke="#2e8fff" stroke-width="1.3"/>
<circle cx="326.7" cy="57.8" r="2.35" fill="none" stroke="#2e8fff" stroke-width="1.3"/>
<circle cx="327.0" cy="50.7" r="2.35" fill="none" stroke="#2e8fff" stroke-width="1.3"/>
<polyline points="257.0,242.5 240.1,234.8 287.6,228.1 289.1,221.0 290.5,213.9 293.6,206.8 297.5,199.7 300.0,192.6 302.0,185.5 304.1,178.4 306.1,171.3 308.2,164.2 310.6,157.1 313.0,150.0 315.4,142.9 317.8,135.8 320.2,128.7 321.8,121.6 323.7,114.6 325.5,107.5 327.4,100.4 329.2,93.3 330.6,86.2 331.1,79.1 331.2,72.0 331.3,64.9 331.5,57.8 331.6,50.7" fill="none" stroke="#3df07a" stroke-width="1.8" stroke-linejoin="round" clip-path="url(#cb)"/>
<rect x="254.4" y="239.9" width="5.1" height="5.1" fill="none" stroke="#3df07a" stroke-width="1.3"/>
<rect x="237.5" y="232.2" width="5.1" height="5.1" fill="none" stroke="#3df07a" stroke-width="1.3"/>
<rect x="285.1" y="225.5" width="5.1" height="5.1" fill="none" stroke="#3df07a" stroke-width="1.3"/>
<rect x="286.6" y="218.4" width="5.1" height="5.1" fill="none" stroke="#3df07a" stroke-width="1.3"/>
<rect x="288.0" y="211.3" width="5.1" height="5.1" fill="none" stroke="#3df07a" stroke-width="1.3"/>
<rect x="291.0" y="204.2" width="5.1" height="5.1" fill="none" stroke="#3df07a" stroke-width="1.3"/>
<rect x="294.9" y="197.1" width="5.1" height="5.1" fill="none" stroke="#3df07a" stroke-width="1.3"/>
<rect x="297.4" y="190.0" width="5.1" height="5.1" fill="none" stroke="#3df07a" stroke-width="1.3"/>
<rect x="299.5" y="183.0" width="5.1" height="5.1" fill="none" stroke="#3df07a" stroke-width="1.3"/>
<rect x="301.5" y="175.9" width="5.1" height="5.1" fill="none" stroke="#3df07a" stroke-width="1.3"/>
<rect x="303.6" y="168.8" width="5.1" height="5.1" fill="none" stroke="#3df07a" stroke-width="1.3"/>
<rect x="305.6" y="161.7" width="5.1" height="5.1" fill="none" stroke="#3df07a" stroke-width="1.3"/>
<rect x="308.1" y="154.6" width="5.1" height="5.1" fill="none" stroke="#3df07a" stroke-width="1.3"/>
<rect x="310.5" y="147.5" width="5.1" height="5.1" fill="none" stroke="#3df07a" stroke-width="1.3"/>
<rect x="312.9" y="140.4" width="5.1" height="5.1" fill="none" stroke="#3df07a" stroke-width="1.3"/>
<rect x="315.3" y="133.3" width="5.1" height="5.1" fill="none" stroke="#3df07a" stroke-width="1.3"/>
<rect x="317.7" y="126.2" width="5.1" height="5.1" fill="none" stroke="#3df07a" stroke-width="1.3"/>
<rect x="319.3" y="119.1" width="5.1" height="5.1" fill="none" stroke="#3df07a" stroke-width="1.3"/>
<rect x="321.1" y="112.0" width="5.1" height="5.1" fill="none" stroke="#3df07a" stroke-width="1.3"/>
<rect x="323.0" y="104.9" width="5.1" height="5.1" fill="none" stroke="#3df07a" stroke-width="1.3"/>
<rect x="324.8" y="97.8" width="5.1" height="5.1" fill="none" stroke="#3df07a" stroke-width="1.3"/>
<rect x="326.7" y="90.7" width="5.1" height="5.1" fill="none" stroke="#3df07a" stroke-width="1.3"/>
<rect x="328.1" y="83.6" width="5.1" height="5.1" fill="none" stroke="#3df07a" stroke-width="1.3"/>
<rect x="328.5" y="76.5" width="5.1" height="5.1" fill="none" stroke="#3df07a" stroke-width="1.3"/>
<rect x="328.6" y="69.4" width="5.1" height="5.1" fill="none" stroke="#3df07a" stroke-width="1.3"/>
<rect x="328.8" y="62.3" width="5.1" height="5.1" fill="none" stroke="#3df07a" stroke-width="1.3"/>
<rect x="328.9" y="55.2" width="5.1" height="5.1" fill="none" stroke="#3df07a" stroke-width="1.3"/>
<rect x="329.1" y="48.1" width="5.1" height="5.1" fill="none" stroke="#3df07a" stroke-width="1.3"/>
<polyline points="262.0,242.5 241.0,234.8 281.6,228.1 281.6,221.0 282.9,213.9 284.8,206.8 289.0,199.7 292.4,192.6 295.4,185.5 298.5,178.4 301.6,171.3 304.7,164.2 307.1,157.1 309.6,150.0 312.0,142.9 314.5,135.8 317.0,128.7 318.9,121.6 319.7,114.6 320.4,107.5 321.0,100.4 321.7,93.3 322.0,86.2 322.0,79.1 322.5,72.0 323.0,64.9 323.5,57.8 324.0,50.7" fill="none" stroke="#dede35" stroke-width="1.8" stroke-linejoin="round" clip-path="url(#cb)"/>
<path d="M259.5 244.2L264.4 244.2L262.0 239.3Z" fill="#dede35" fill-opacity="0.55" stroke="#dede35" stroke-width="1.5"/>
<path d="M238.5 236.5L243.4 236.5L241.0 231.6Z" fill="#dede35" fill-opacity="0.55" stroke="#dede35" stroke-width="1.5"/>
<path d="M279.2 229.8L284.1 229.8L281.6 224.9Z" fill="#dede35" fill-opacity="0.55" stroke="#dede35" stroke-width="1.5"/>
<path d="M279.2 222.7L284.1 222.7L281.6 217.8Z" fill="#dede35" fill-opacity="0.55" stroke="#dede35" stroke-width="1.5"/>
<path d="M280.5 215.6L285.4 215.6L282.9 210.7Z" fill="#dede35" fill-opacity="0.55" stroke="#dede35" stroke-width="1.5"/>
<path d="M282.3 208.5L287.2 208.5L284.8 203.6Z" fill="#dede35" fill-opacity="0.55" stroke="#dede35" stroke-width="1.5"/>
<path d="M286.5 201.4L291.4 201.4L289.0 196.5Z" fill="#dede35" fill-opacity="0.55" stroke="#dede35" stroke-width="1.5"/>
<path d="M289.9 194.3L294.8 194.3L292.4 189.4Z" fill="#dede35" fill-opacity="0.55" stroke="#dede35" stroke-width="1.5"/>
<path d="M293.0 187.3L297.9 187.3L295.4 182.4Z" fill="#dede35" fill-opacity="0.55" stroke="#dede35" stroke-width="1.5"/>
<path d="M296.1 180.2L301.0 180.2L298.5 175.3Z" fill="#dede35" fill-opacity="0.55" stroke="#dede35" stroke-width="1.5"/>
<path d="M299.2 173.1L304.1 173.1L301.6 168.2Z" fill="#dede35" fill-opacity="0.55" stroke="#dede35" stroke-width="1.5"/>
<path d="M302.3 166.0L307.2 166.0L304.7 161.1Z" fill="#dede35" fill-opacity="0.55" stroke="#dede35" stroke-width="1.5"/>
<path d="M304.6 158.9L309.5 158.9L307.1 154.0Z" fill="#dede35" fill-opacity="0.55" stroke="#dede35" stroke-width="1.5"/>
<path d="M307.1 151.8L312.0 151.8L309.6 146.9Z" fill="#dede35" fill-opacity="0.55" stroke="#dede35" stroke-width="1.5"/>
<path d="M309.6 144.7L314.5 144.7L312.0 139.8Z" fill="#dede35" fill-opacity="0.55" stroke="#dede35" stroke-width="1.5"/>
<path d="M312.1 137.6L317.0 137.6L314.5 132.7Z" fill="#dede35" fill-opacity="0.55" stroke="#dede35" stroke-width="1.5"/>
<path d="M314.6 130.5L319.5 130.5L317.0 125.6Z" fill="#dede35" fill-opacity="0.55" stroke="#dede35" stroke-width="1.5"/>
<path d="M316.5 123.4L321.4 123.4L318.9 118.5Z" fill="#dede35" fill-opacity="0.55" stroke="#dede35" stroke-width="1.5"/>
<path d="M317.2 116.3L322.1 116.3L319.7 111.4Z" fill="#dede35" fill-opacity="0.55" stroke="#dede35" stroke-width="1.5"/>
<path d="M317.9 109.2L322.8 109.2L320.4 104.3Z" fill="#dede35" fill-opacity="0.55" stroke="#dede35" stroke-width="1.5"/>
<path d="M318.6 102.1L323.5 102.1L321.0 97.2Z" fill="#dede35" fill-opacity="0.55" stroke="#dede35" stroke-width="1.5"/>
<path d="M319.2 95.0L324.1 95.0L321.7 90.1Z" fill="#dede35" fill-opacity="0.55" stroke="#dede35" stroke-width="1.5"/>
<path d="M319.5 87.9L324.4 87.9L322.0 83.0Z" fill="#dede35" fill-opacity="0.55" stroke="#dede35" stroke-width="1.5"/>
<path d="M319.6 80.8L324.5 80.8L322.0 75.9Z" fill="#dede35" fill-opacity="0.55" stroke="#dede35" stroke-width="1.5"/>
<path d="M320.1 73.7L325.0 73.7L322.5 68.8Z" fill="#dede35" fill-opacity="0.55" stroke="#dede35" stroke-width="1.5"/>
<path d="M320.6 66.6L325.5 66.6L323.0 61.7Z" fill="#dede35" fill-opacity="0.55" stroke="#dede35" stroke-width="1.5"/>
<path d="M321.1 59.5L326.0 59.5L323.5 54.6Z" fill="#dede35" fill-opacity="0.55" stroke="#dede35" stroke-width="1.5"/>
<path d="M321.6 52.4L326.4 52.4L324.0 47.5Z" fill="#dede35" fill-opacity="0.55" stroke="#dede35" stroke-width="1.5"/>
<polyline points="287.3,242.5 246.5,234.8 284.4,228.1 287.1,221.0 289.4,213.9 292.3,206.8 295.9,199.7 299.5,192.6 303.1,185.5 306.7,178.4 310.2,171.3 313.8,164.2 317.4,157.1 320.1,150.0 322.8,142.9 325.6,135.8 328.3,128.7 330.4,121.6 331.2,114.6 331.8,107.5 332.5,100.4 333.1,93.3 333.5,86.2 333.5,79.1 333.3,72.0 333.1,64.9 332.8,57.8 332.6,50.7" fill="none" stroke="#ff5a10" stroke-width="1.8" stroke-linejoin="round" clip-path="url(#cb)"/>
<path d="M287.3 238.9L289.9 242.5L287.3 246.1L284.7 242.5Z" fill="#ff5a10" fill-opacity="0.45" stroke="#ff5a10" stroke-width="1.5"/>
<path d="M246.5 231.2L249.1 234.8L246.5 238.4L243.9 234.8Z" fill="#ff5a10" fill-opacity="0.45" stroke="#ff5a10" stroke-width="1.5"/>
<path d="M284.4 224.5L287.0 228.1L284.4 231.7L281.8 228.1Z" fill="#ff5a10" fill-opacity="0.45" stroke="#ff5a10" stroke-width="1.5"/>
<path d="M287.1 217.4L289.7 221.0L287.1 224.6L284.5 221.0Z" fill="#ff5a10" fill-opacity="0.45" stroke="#ff5a10" stroke-width="1.5"/>
<path d="M289.4 210.3L292.0 213.9L289.4 217.5L286.8 213.9Z" fill="#ff5a10" fill-opacity="0.45" stroke="#ff5a10" stroke-width="1.5"/>
<path d="M292.3 203.2L294.9 206.8L292.3 210.4L289.7 206.8Z" fill="#ff5a10" fill-opacity="0.45" stroke="#ff5a10" stroke-width="1.5"/>
<path d="M295.9 196.1L298.5 199.7L295.9 203.3L293.3 199.7Z" fill="#ff5a10" fill-opacity="0.45" stroke="#ff5a10" stroke-width="1.5"/>
<path d="M299.5 189.0L302.1 192.6L299.5 196.2L296.9 192.6Z" fill="#ff5a10" fill-opacity="0.45" stroke="#ff5a10" stroke-width="1.5"/>
<path d="M303.1 181.9L305.7 185.5L303.1 189.1L300.5 185.5Z" fill="#ff5a10" fill-opacity="0.45" stroke="#ff5a10" stroke-width="1.5"/>
<path d="M306.7 174.8L309.3 178.4L306.7 182.0L304.1 178.4Z" fill="#ff5a10" fill-opacity="0.45" stroke="#ff5a10" stroke-width="1.5"/>
<path d="M310.2 167.7L312.8 171.3L310.2 174.9L307.6 171.3Z" fill="#ff5a10" fill-opacity="0.45" stroke="#ff5a10" stroke-width="1.5"/>
<path d="M313.8 160.6L316.4 164.2L313.8 167.8L311.2 164.2Z" fill="#ff5a10" fill-opacity="0.45" stroke="#ff5a10" stroke-width="1.5"/>
<path d="M317.4 153.5L320.0 157.1L317.4 160.7L314.8 157.1Z" fill="#ff5a10" fill-opacity="0.45" stroke="#ff5a10" stroke-width="1.5"/>
<path d="M320.1 146.4L322.7 150.0L320.1 153.6L317.5 150.0Z" fill="#ff5a10" fill-opacity="0.45" stroke="#ff5a10" stroke-width="1.5"/>
<path d="M322.8 139.3L325.4 142.9L322.8 146.5L320.2 142.9Z" fill="#ff5a10" fill-opacity="0.45" stroke="#ff5a10" stroke-width="1.5"/>
<path d="M325.6 132.2L328.2 135.8L325.6 139.4L323.0 135.8Z" fill="#ff5a10" fill-opacity="0.45" stroke="#ff5a10" stroke-width="1.5"/>
<path d="M328.3 125.1L330.9 128.7L328.3 132.3L325.7 128.7Z" fill="#ff5a10" fill-opacity="0.45" stroke="#ff5a10" stroke-width="1.5"/>
<path d="M330.4 118.0L333.0 121.6L330.4 125.2L327.8 121.6Z" fill="#ff5a10" fill-opacity="0.45" stroke="#ff5a10" stroke-width="1.5"/>
<path d="M331.2 111.0L333.8 114.6L331.2 118.2L328.6 114.6Z" fill="#ff5a10" fill-opacity="0.45" stroke="#ff5a10" stroke-width="1.5"/>
<path d="M331.8 103.9L334.4 107.5L331.8 111.1L329.2 107.5Z" fill="#ff5a10" fill-opacity="0.45" stroke="#ff5a10" stroke-width="1.5"/>
<path d="M332.5 96.8L335.1 100.4L332.5 104.0L329.9 100.4Z" fill="#ff5a10" fill-opacity="0.45" stroke="#ff5a10" stroke-width="1.5"/>
<path d="M333.1 89.7L335.7 93.3L333.1 96.9L330.5 93.3Z" fill="#ff5a10" fill-opacity="0.45" stroke="#ff5a10" stroke-width="1.5"/>
<path d="M333.5 82.6L336.1 86.2L333.5 89.8L330.9 86.2Z" fill="#ff5a10" fill-opacity="0.45" stroke="#ff5a10" stroke-width="1.5"/>
<path d="M333.5 75.5L336.1 79.1L333.5 82.7L330.9 79.1Z" fill="#ff5a10" fill-opacity="0.45" stroke="#ff5a10" stroke-width="1.5"/>
<path d="M333.3 68.4L335.9 72.0L333.3 75.6L330.7 72.0Z" fill="#ff5a10" fill-opacity="0.45" stroke="#ff5a10" stroke-width="1.5"/>
<path d="M333.1 61.3L335.7 64.9L333.1 68.5L330.5 64.9Z" fill="#ff5a10" fill-opacity="0.45" stroke="#ff5a10" stroke-width="1.5"/>
<path d="M332.8 54.2L335.4 57.8L332.8 61.4L330.2 57.8Z" fill="#ff5a10" fill-opacity="0.45" stroke="#ff5a10" stroke-width="1.5"/>
<path d="M332.6 47.1L335.2 50.7L332.6 54.3L330.0 50.7Z" fill="#ff5a10" fill-opacity="0.45" stroke="#ff5a10" stroke-width="1.5"/>
<polyline points="300.4,242.5 251.9,234.8 285.5,228.1 285.8,221.0 286.2,213.9 287.9,206.8 290.9,199.7 294.2,192.6 297.7,185.5 301.2,178.4 304.6,171.3 308.1,164.2 311.2,157.1 314.1,150.0 317.0,142.9 319.9,135.8 322.8,128.7 324.7,121.6 325.5,114.6 326.2,107.5 326.9,100.4 327.6,93.3 328.0,86.2 328.0,79.1 328.0,72.0 328.1,64.9 328.1,57.8 328.1,50.7" fill="none" stroke="#8c0a0a" stroke-width="1.8" stroke-linejoin="round" clip-path="url(#cb)"/>
<path d="M297.4 240.6L303.5 240.6L300.4 246.2Z" fill="#8c0a0a" fill-opacity="0.75" stroke="#8c0a0a" stroke-width="1.5"/>
<path d="M248.8 232.9L254.9 232.9L251.9 238.5Z" fill="#8c0a0a" fill-opacity="0.75" stroke="#8c0a0a" stroke-width="1.5"/>
<path d="M282.5 226.2L288.6 226.2L285.5 231.8Z" fill="#8c0a0a" fill-opacity="0.75" stroke="#8c0a0a" stroke-width="1.5"/>
<path d="M282.7 219.1L288.8 219.1L285.8 224.7Z" fill="#8c0a0a" fill-opacity="0.75" stroke="#8c0a0a" stroke-width="1.5"/>
<path d="M283.1 212.0L289.2 212.0L286.2 217.6Z" fill="#8c0a0a" fill-opacity="0.75" stroke="#8c0a0a" stroke-width="1.5"/>
<path d="M284.8 204.9L290.9 204.9L287.9 210.5Z" fill="#8c0a0a" fill-opacity="0.75" stroke="#8c0a0a" stroke-width="1.5"/>
<path d="M287.8 197.8L293.9 197.8L290.9 203.4Z" fill="#8c0a0a" fill-opacity="0.75" stroke="#8c0a0a" stroke-width="1.5"/>
<path d="M291.2 190.7L297.3 190.7L294.2 196.3Z" fill="#8c0a0a" fill-opacity="0.75" stroke="#8c0a0a" stroke-width="1.5"/>
<path d="M294.7 183.6L300.8 183.6L297.7 189.2Z" fill="#8c0a0a" fill-opacity="0.75" stroke="#8c0a0a" stroke-width="1.5"/>
<path d="M298.1 176.5L304.2 176.5L301.2 182.1Z" fill="#8c0a0a" fill-opacity="0.75" stroke="#8c0a0a" stroke-width="1.5"/>
<path d="M301.6 169.4L307.7 169.4L304.6 175.0Z" fill="#8c0a0a" fill-opacity="0.75" stroke="#8c0a0a" stroke-width="1.5"/>
<path d="M305.0 162.3L311.1 162.3L308.1 167.9Z" fill="#8c0a0a" fill-opacity="0.75" stroke="#8c0a0a" stroke-width="1.5"/>
<path d="M308.2 155.2L314.3 155.2L311.2 160.8Z" fill="#8c0a0a" fill-opacity="0.75" stroke="#8c0a0a" stroke-width="1.5"/>
<path d="M311.1 148.1L317.2 148.1L314.1 153.7Z" fill="#8c0a0a" fill-opacity="0.75" stroke="#8c0a0a" stroke-width="1.5"/>
<path d="M313.9 141.0L320.0 141.0L317.0 146.6Z" fill="#8c0a0a" fill-opacity="0.75" stroke="#8c0a0a" stroke-width="1.5"/>
<path d="M316.8 133.9L322.9 133.9L319.9 139.5Z" fill="#8c0a0a" fill-opacity="0.75" stroke="#8c0a0a" stroke-width="1.5"/>
<path d="M319.7 126.8L325.8 126.8L322.8 132.4Z" fill="#8c0a0a" fill-opacity="0.75" stroke="#8c0a0a" stroke-width="1.5"/>
<path d="M321.7 119.7L327.8 119.7L324.7 125.3Z" fill="#8c0a0a" fill-opacity="0.75" stroke="#8c0a0a" stroke-width="1.5"/>
<path d="M322.5 112.7L328.6 112.7L325.5 118.3Z" fill="#8c0a0a" fill-opacity="0.75" stroke="#8c0a0a" stroke-width="1.5"/>
<path d="M323.1 105.6L329.2 105.6L326.2 111.2Z" fill="#8c0a0a" fill-opacity="0.75" stroke="#8c0a0a" stroke-width="1.5"/>
<path d="M323.8 98.5L329.9 98.5L326.9 104.1Z" fill="#8c0a0a" fill-opacity="0.75" stroke="#8c0a0a" stroke-width="1.5"/>
<path d="M324.5 91.4L330.6 91.4L327.6 97.0Z" fill="#8c0a0a" fill-opacity="0.75" stroke="#8c0a0a" stroke-width="1.5"/>
<path d="M324.9 84.3L331.1 84.3L328.0 89.9Z" fill="#8c0a0a" fill-opacity="0.75" stroke="#8c0a0a" stroke-width="1.5"/>
<path d="M325.0 77.2L331.1 77.2L328.0 82.8Z" fill="#8c0a0a" fill-opacity="0.75" stroke="#8c0a0a" stroke-width="1.5"/>
<path d="M325.0 70.1L331.1 70.1L328.0 75.7Z" fill="#8c0a0a" fill-opacity="0.75" stroke="#8c0a0a" stroke-width="1.5"/>
<path d="M325.0 63.0L331.1 63.0L328.1 68.6Z" fill="#8c0a0a" fill-opacity="0.75" stroke="#8c0a0a" stroke-width="1.5"/>
<path d="M325.0 55.9L331.1 55.9L328.1 61.5Z" fill="#8c0a0a" fill-opacity="0.75" stroke="#8c0a0a" stroke-width="1.5"/>
<path d="M325.1 48.8L331.2 48.8L328.1 54.4Z" fill="#8c0a0a" fill-opacity="0.75" stroke="#8c0a0a" stroke-width="1.5"/>
<text x="228.1" y="263.4" text-anchor="middle" class="tk">-4</text>
<text x="271.8" y="263.4" text-anchor="middle" class="tk">-2</text>
<text x="317.3" y="263.4" text-anchor="middle" class="tk">0</text>
<text x="361.0" y="263.4" text-anchor="middle" class="tk">2</text>
<text x="225.3" y="251.6" text-anchor="end" class="tk">0</text>
<text x="225.3" y="212.5" text-anchor="end" class="tk">0.1</text>
<text x="225.3" y="173.5" text-anchor="end" class="tk">0.2</text>
<text x="225.3" y="134.4" text-anchor="end" class="tk">0.3</text>
<text x="225.3" y="95.4" text-anchor="end" class="tk">0.4</text>
<text x="225.3" y="56.3" text-anchor="end" class="tk">0.5</text>
<rect x="411.0" y="48.2" width="133.10000000000002" height="198.8" fill="#fff"/>
<line x1="474.4" y1="48.2" x2="474.4" y2="247.0" stroke="#dfdfdf" stroke-width="0.9"/>
<line x1="537.9" y1="48.2" x2="537.9" y2="247.0" stroke="#dfdfdf" stroke-width="0.9"/>
<line x1="411.0" y1="207.24" x2="544.1" y2="207.24" stroke="#dfdfdf" stroke-width="0.9"/>
<line x1="411.0" y1="167.48000000000002" x2="544.1" y2="167.48000000000002" stroke="#dfdfdf" stroke-width="0.9"/>
<line x1="411.0" y1="127.72" x2="544.1" y2="127.72" stroke="#dfdfdf" stroke-width="0.9"/>
<line x1="411.0" y1="87.96000000000001" x2="544.1" y2="87.96000000000001" stroke="#dfdfdf" stroke-width="0.9"/>
<rect x="411.0" y="48.2" width="133.10000000000002" height="198.8" fill="none" stroke="#4a4a4a" stroke-width="1.15"/>
<line x1="411.0" y1="247.0" x2="411.0" y2="245.0" stroke="#4a4a4a" stroke-width="0.9"/>
<line x1="411.0" y1="48.2" x2="411.0" y2="50.2" stroke="#4a4a4a" stroke-width="0.9"/>
<line x1="474.4" y1="247.0" x2="474.4" y2="245.0" stroke="#4a4a4a" stroke-width="0.9"/>
<line x1="474.4" y1="48.2" x2="474.4" y2="50.2" stroke="#4a4a4a" stroke-width="0.9"/>
<line x1="537.9" y1="247.0" x2="537.9" y2="245.0" stroke="#4a4a4a" stroke-width="0.9"/>
<line x1="537.9" y1="48.2" x2="537.9" y2="50.2" stroke="#4a4a4a" stroke-width="0.9"/>
<line x1="411.0" y1="247.0" x2="413.0" y2="247.0" stroke="#4a4a4a" stroke-width="0.9"/>
<line x1="544.1" y1="247.0" x2="542.1" y2="247.0" stroke="#4a4a4a" stroke-width="0.9"/>
<line x1="411.0" y1="207.24" x2="413.0" y2="207.24" stroke="#4a4a4a" stroke-width="0.9"/>
<line x1="544.1" y1="207.24" x2="542.1" y2="207.24" stroke="#4a4a4a" stroke-width="0.9"/>
<line x1="411.0" y1="167.48000000000002" x2="413.0" y2="167.48000000000002" stroke="#4a4a4a" stroke-width="0.9"/>
<line x1="544.1" y1="167.48000000000002" x2="542.1" y2="167.48000000000002" stroke="#4a4a4a" stroke-width="0.9"/>
<line x1="411.0" y1="127.72" x2="413.0" y2="127.72" stroke="#4a4a4a" stroke-width="0.9"/>
<line x1="544.1" y1="127.72" x2="542.1" y2="127.72" stroke="#4a4a4a" stroke-width="0.9"/>
<line x1="411.0" y1="87.96000000000001" x2="413.0" y2="87.96000000000001" stroke="#4a4a4a" stroke-width="0.9"/>
<line x1="544.1" y1="87.96000000000001" x2="542.1" y2="87.96000000000001" stroke="#4a4a4a" stroke-width="0.9"/>
<line x1="411.0" y1="48.20000000000002" x2="413.0" y2="48.20000000000002" stroke="#4a4a4a" stroke-width="0.9"/>
<line x1="544.1" y1="48.20000000000002" x2="542.1" y2="48.20000000000002" stroke="#4a4a4a" stroke-width="0.9"/>
<clipPath id="cc"><rect x="411.0" y="48.2" width="133.10000000000002" height="198.8"/></clipPath>
<polyline points="410.6,243.4 460.0,235.6 488.2,228.8 499.3,221.5 509.4,214.3 518.2,207.1 525.3,199.9 530.1,192.6 534.0,185.4 536.7,178.2 538.4,171.0 539.3,163.8 539.7,156.5 539.6,149.3 539.4,142.1 539.3,134.9 539.1,127.6 539.0,120.4 538.8,113.2 538.7,106.0 538.5,98.8 538.4,91.5 538.2,84.3 538.1,77.1 537.9,69.9 537.8,62.6 537.6,55.4 537.5,48.2" fill="none" stroke="#2e8fff" stroke-width="1.8" stroke-linejoin="round" clip-path="url(#cc)"/>
<circle cx="410.6" cy="243.4" r="2.35" fill="none" stroke="#2e8fff" stroke-width="1.3"/>
<circle cx="460.0" cy="235.6" r="2.35" fill="none" stroke="#2e8fff" stroke-width="1.3"/>
<circle cx="488.2" cy="228.8" r="2.35" fill="none" stroke="#2e8fff" stroke-width="1.3"/>
<circle cx="499.3" cy="221.5" r="2.35" fill="none" stroke="#2e8fff" stroke-width="1.3"/>
<circle cx="509.4" cy="214.3" r="2.35" fill="none" stroke="#2e8fff" stroke-width="1.3"/>
<circle cx="518.2" cy="207.1" r="2.35" fill="none" stroke="#2e8fff" stroke-width="1.3"/>
<circle cx="525.3" cy="199.9" r="2.35" fill="none" stroke="#2e8fff" stroke-width="1.3"/>
<circle cx="530.1" cy="192.6" r="2.35" fill="none" stroke="#2e8fff" stroke-width="1.3"/>
<circle cx="534.0" cy="185.4" r="2.35" fill="none" stroke="#2e8fff" stroke-width="1.3"/>
<circle cx="536.7" cy="178.2" r="2.35" fill="none" stroke="#2e8fff" stroke-width="1.3"/>
<circle cx="538.4" cy="171.0" r="2.35" fill="none" stroke="#2e8fff" stroke-width="1.3"/>
<circle cx="539.3" cy="163.8" r="2.35" fill="none" stroke="#2e8fff" stroke-width="1.3"/>
<circle cx="539.7" cy="156.5" r="2.35" fill="none" stroke="#2e8fff" stroke-width="1.3"/>
<circle cx="539.6" cy="149.3" r="2.35" fill="none" stroke="#2e8fff" stroke-width="1.3"/>
<circle cx="539.4" cy="142.1" r="2.35" fill="none" stroke="#2e8fff" stroke-width="1.3"/>
<circle cx="539.3" cy="134.9" r="2.35" fill="none" stroke="#2e8fff" stroke-width="1.3"/>
<circle cx="539.1" cy="127.6" r="2.35" fill="none" stroke="#2e8fff" stroke-width="1.3"/>
<circle cx="539.0" cy="120.4" r="2.35" fill="none" stroke="#2e8fff" stroke-width="1.3"/>
<circle cx="538.8" cy="113.2" r="2.35" fill="none" stroke="#2e8fff" stroke-width="1.3"/>
<circle cx="538.7" cy="106.0" r="2.35" fill="none" stroke="#2e8fff" stroke-width="1.3"/>
<circle cx="538.5" cy="98.8" r="2.35" fill="none" stroke="#2e8fff" stroke-width="1.3"/>
<circle cx="538.4" cy="91.5" r="2.35" fill="none" stroke="#2e8fff" stroke-width="1.3"/>
<circle cx="538.2" cy="84.3" r="2.35" fill="none" stroke="#2e8fff" stroke-width="1.3"/>
<circle cx="538.1" cy="77.1" r="2.35" fill="none" stroke="#2e8fff" stroke-width="1.3"/>
<circle cx="537.9" cy="69.9" r="2.35" fill="none" stroke="#2e8fff" stroke-width="1.3"/>
<circle cx="537.8" cy="62.6" r="2.35" fill="none" stroke="#2e8fff" stroke-width="1.3"/>
<circle cx="537.6" cy="55.4" r="2.35" fill="none" stroke="#2e8fff" stroke-width="1.3"/>
<circle cx="537.5" cy="48.2" r="2.35" fill="none" stroke="#2e8fff" stroke-width="1.3"/>
<polyline points="403.9,243.4 462.0,235.6 490.7,228.8 502.5,221.5 512.1,214.3 520.3,207.1 527.1,199.9 532.0,192.6 535.3,185.4 537.8,178.2 539.2,171.0 540.0,163.8 540.5,156.5 540.3,149.3 540.2,142.1 540.0,134.9 539.8,127.6 539.7,120.4 539.5,113.2 539.3,106.0 539.2,98.8 539.0,91.5 538.8,84.3 538.7,77.1 538.5,69.9 538.3,62.6 538.2,55.4 538.0,48.2" fill="none" stroke="#3df07a" stroke-width="1.8" stroke-linejoin="round" clip-path="url(#cc)"/>
<rect x="459.4" y="233.0" width="5.1" height="5.1" fill="none" stroke="#3df07a" stroke-width="1.3"/>
<rect x="488.1" y="226.2" width="5.1" height="5.1" fill="none" stroke="#3df07a" stroke-width="1.3"/>
<rect x="499.9" y="219.0" width="5.1" height="5.1" fill="none" stroke="#3df07a" stroke-width="1.3"/>
<rect x="509.6" y="211.8" width="5.1" height="5.1" fill="none" stroke="#3df07a" stroke-width="1.3"/>
<rect x="517.8" y="204.5" width="5.1" height="5.1" fill="none" stroke="#3df07a" stroke-width="1.3"/>
<rect x="524.6" y="197.3" width="5.1" height="5.1" fill="none" stroke="#3df07a" stroke-width="1.3"/>
<rect x="529.5" y="190.1" width="5.1" height="5.1" fill="none" stroke="#3df07a" stroke-width="1.3"/>
<rect x="532.8" y="182.9" width="5.1" height="5.1" fill="none" stroke="#3df07a" stroke-width="1.3"/>
<rect x="535.2" y="175.6" width="5.1" height="5.1" fill="none" stroke="#3df07a" stroke-width="1.3"/>
<rect x="536.7" y="168.4" width="5.1" height="5.1" fill="none" stroke="#3df07a" stroke-width="1.3"/>
<rect x="537.5" y="161.2" width="5.1" height="5.1" fill="none" stroke="#3df07a" stroke-width="1.3"/>
<rect x="538.0" y="154.0" width="5.1" height="5.1" fill="none" stroke="#3df07a" stroke-width="1.3"/>
<rect x="537.8" y="146.8" width="5.1" height="5.1" fill="none" stroke="#3df07a" stroke-width="1.3"/>
<rect x="537.6" y="139.5" width="5.1" height="5.1" fill="none" stroke="#3df07a" stroke-width="1.3"/>
<rect x="537.5" y="132.3" width="5.1" height="5.1" fill="none" stroke="#3df07a" stroke-width="1.3"/>
<rect x="537.3" y="125.1" width="5.1" height="5.1" fill="none" stroke="#3df07a" stroke-width="1.3"/>
<rect x="537.1" y="117.9" width="5.1" height="5.1" fill="none" stroke="#3df07a" stroke-width="1.3"/>
<rect x="537.0" y="110.6" width="5.1" height="5.1" fill="none" stroke="#3df07a" stroke-width="1.3"/>
<rect x="536.8" y="103.4" width="5.1" height="5.1" fill="none" stroke="#3df07a" stroke-width="1.3"/>
<rect x="536.6" y="96.2" width="5.1" height="5.1" fill="none" stroke="#3df07a" stroke-width="1.3"/>
<rect x="536.5" y="89.0" width="5.1" height="5.1" fill="none" stroke="#3df07a" stroke-width="1.3"/>
<rect x="536.3" y="81.8" width="5.1" height="5.1" fill="none" stroke="#3df07a" stroke-width="1.3"/>
<rect x="536.1" y="74.5" width="5.1" height="5.1" fill="none" stroke="#3df07a" stroke-width="1.3"/>
<rect x="536.0" y="67.3" width="5.1" height="5.1" fill="none" stroke="#3df07a" stroke-width="1.3"/>
<rect x="535.8" y="60.1" width="5.1" height="5.1" fill="none" stroke="#3df07a" stroke-width="1.3"/>
<rect x="535.6" y="52.9" width="5.1" height="5.1" fill="none" stroke="#3df07a" stroke-width="1.3"/>
<rect x="535.5" y="45.6" width="5.1" height="5.1" fill="none" stroke="#3df07a" stroke-width="1.3"/>
<polyline points="417.4,243.4 464.6,235.6 493.5,228.8 505.5,221.5 514.9,214.3 522.8,207.1 529.1,199.9 534.0,192.6 536.8,185.4 539.0,178.2 540.0,171.0 540.5,163.8 540.7,156.5 540.5,149.3 540.3,142.1 540.1,134.9 539.9,127.6 539.7,120.4 539.5,113.2 539.3,106.0 539.0,98.8 538.8,91.5 538.6,84.3 538.4,77.1 538.2,69.9 538.0,62.6 537.8,55.4 537.6,48.2" fill="none" stroke="#dede35" stroke-width="1.8" stroke-linejoin="round" clip-path="url(#cc)"/>
<path d="M414.9 245.2L419.8 245.2L417.4 240.3Z" fill="#dede35" fill-opacity="0.55" stroke="#dede35" stroke-width="1.5"/>
<path d="M462.2 237.3L467.1 237.3L464.6 232.4Z" fill="#dede35" fill-opacity="0.55" stroke="#dede35" stroke-width="1.5"/>
<path d="M491.1 230.5L495.9 230.5L493.5 225.6Z" fill="#dede35" fill-opacity="0.55" stroke="#dede35" stroke-width="1.5"/>
<path d="M503.1 223.3L507.9 223.3L505.5 218.4Z" fill="#dede35" fill-opacity="0.55" stroke="#dede35" stroke-width="1.5"/>
<path d="M512.4 216.1L517.4 216.1L514.9 211.2Z" fill="#dede35" fill-opacity="0.55" stroke="#dede35" stroke-width="1.5"/>
<path d="M520.3 208.8L525.2 208.8L522.8 203.9Z" fill="#dede35" fill-opacity="0.55" stroke="#dede35" stroke-width="1.5"/>
<path d="M526.6 201.6L531.6 201.6L529.1 196.7Z" fill="#dede35" fill-opacity="0.55" stroke="#dede35" stroke-width="1.5"/>
<path d="M531.5 194.4L536.5 194.4L534.0 189.5Z" fill="#dede35" fill-opacity="0.55" stroke="#dede35" stroke-width="1.5"/>
<path d="M534.3 187.2L539.2 187.2L536.8 182.3Z" fill="#dede35" fill-opacity="0.55" stroke="#dede35" stroke-width="1.5"/>
<path d="M536.5 179.9L541.5 179.9L539.0 175.0Z" fill="#dede35" fill-opacity="0.55" stroke="#dede35" stroke-width="1.5"/>
<path d="M537.5 172.7L542.5 172.7L540.0 167.8Z" fill="#dede35" fill-opacity="0.55" stroke="#dede35" stroke-width="1.5"/>
<path d="M538.0 165.5L543.0 165.5L540.5 160.6Z" fill="#dede35" fill-opacity="0.55" stroke="#dede35" stroke-width="1.5"/>
<path d="M538.2 158.3L543.2 158.3L540.7 153.4Z" fill="#dede35" fill-opacity="0.55" stroke="#dede35" stroke-width="1.5"/>
<path d="M538.0 151.1L542.9 151.1L540.5 146.2Z" fill="#dede35" fill-opacity="0.55" stroke="#dede35" stroke-width="1.5"/>
<path d="M537.8 143.8L542.7 143.8L540.3 138.9Z" fill="#dede35" fill-opacity="0.55" stroke="#dede35" stroke-width="1.5"/>
<path d="M537.6 136.6L542.5 136.6L540.1 131.7Z" fill="#dede35" fill-opacity="0.55" stroke="#dede35" stroke-width="1.5"/>
<path d="M537.4 129.4L542.3 129.4L539.9 124.5Z" fill="#dede35" fill-opacity="0.55" stroke="#dede35" stroke-width="1.5"/>
<path d="M537.2 122.2L542.1 122.2L539.7 117.3Z" fill="#dede35" fill-opacity="0.55" stroke="#dede35" stroke-width="1.5"/>
<path d="M537.0 114.9L541.9 114.9L539.5 110.0Z" fill="#dede35" fill-opacity="0.55" stroke="#dede35" stroke-width="1.5"/>
<path d="M536.8 107.7L541.7 107.7L539.3 102.8Z" fill="#dede35" fill-opacity="0.55" stroke="#dede35" stroke-width="1.5"/>
<path d="M536.6 100.5L541.5 100.5L539.0 95.6Z" fill="#dede35" fill-opacity="0.55" stroke="#dede35" stroke-width="1.5"/>
<path d="M536.4 93.3L541.3 93.3L538.8 88.4Z" fill="#dede35" fill-opacity="0.55" stroke="#dede35" stroke-width="1.5"/>
<path d="M536.2 86.1L541.1 86.1L538.6 81.2Z" fill="#dede35" fill-opacity="0.55" stroke="#dede35" stroke-width="1.5"/>
<path d="M536.0 78.8L540.9 78.8L538.4 73.9Z" fill="#dede35" fill-opacity="0.55" stroke="#dede35" stroke-width="1.5"/>
<path d="M535.8 71.6L540.7 71.6L538.2 66.7Z" fill="#dede35" fill-opacity="0.55" stroke="#dede35" stroke-width="1.5"/>
<path d="M535.6 64.4L540.5 64.4L538.0 59.5Z" fill="#dede35" fill-opacity="0.55" stroke="#dede35" stroke-width="1.5"/>
<path d="M535.4 57.2L540.3 57.2L537.8 52.3Z" fill="#dede35" fill-opacity="0.55" stroke="#dede35" stroke-width="1.5"/>
<path d="M535.1 49.9L540.1 49.9L537.6 45.0Z" fill="#dede35" fill-opacity="0.55" stroke="#dede35" stroke-width="1.5"/>
<polyline points="420.0,243.4 467.1,235.6 496.5,228.8 509.0,221.5 518.9,214.3 526.3,207.1 532.1,199.9 536.5,192.6 539.3,185.4 541.0,178.2 542.0,171.0 542.5,163.8 542.7,156.5 542.5,149.3 542.3,142.1 542.2,134.9 542.0,127.6 541.8,120.4 541.6,113.2 541.4,106.0 541.3,98.8 541.1,91.5 540.9,84.3 540.7,77.1 540.5,69.9 540.4,62.6 540.2,55.4 540.0,48.2" fill="none" stroke="#ff5a10" stroke-width="1.8" stroke-linejoin="round" clip-path="url(#cc)"/>
<path d="M420.0 239.8L422.6 243.4L420.0 247.0L417.4 243.4Z" fill="#ff5a10" fill-opacity="0.45" stroke="#ff5a10" stroke-width="1.5"/>
<path d="M467.1 232.0L469.7 235.6L467.1 239.2L464.5 235.6Z" fill="#ff5a10" fill-opacity="0.45" stroke="#ff5a10" stroke-width="1.5"/>
<path d="M496.5 225.2L499.1 228.8L496.5 232.4L493.9 228.8Z" fill="#ff5a10" fill-opacity="0.45" stroke="#ff5a10" stroke-width="1.5"/>
<path d="M509.0 217.9L511.6 221.5L509.0 225.1L506.4 221.5Z" fill="#ff5a10" fill-opacity="0.45" stroke="#ff5a10" stroke-width="1.5"/>
<path d="M518.9 210.7L521.5 214.3L518.9 217.9L516.3 214.3Z" fill="#ff5a10" fill-opacity="0.45" stroke="#ff5a10" stroke-width="1.5"/>
<path d="M526.3 203.5L528.9 207.1L526.3 210.7L523.7 207.1Z" fill="#ff5a10" fill-opacity="0.45" stroke="#ff5a10" stroke-width="1.5"/>
<path d="M532.1 196.3L534.7 199.9L532.1 203.5L529.5 199.9Z" fill="#ff5a10" fill-opacity="0.45" stroke="#ff5a10" stroke-width="1.5"/>
<path d="M536.5 189.0L539.1 192.6L536.5 196.2L533.9 192.6Z" fill="#ff5a10" fill-opacity="0.45" stroke="#ff5a10" stroke-width="1.5"/>
<path d="M539.3 181.8L541.9 185.4L539.3 189.0L536.7 185.4Z" fill="#ff5a10" fill-opacity="0.45" stroke="#ff5a10" stroke-width="1.5"/>
<path d="M541.0 174.6L543.6 178.2L541.0 181.8L538.4 178.2Z" fill="#ff5a10" fill-opacity="0.45" stroke="#ff5a10" stroke-width="1.5"/>
<path d="M542.0 167.4L544.6 171.0L542.0 174.6L539.4 171.0Z" fill="#ff5a10" fill-opacity="0.45" stroke="#ff5a10" stroke-width="1.5"/>
<path d="M542.5 160.2L545.1 163.8L542.5 167.4L539.9 163.8Z" fill="#ff5a10" fill-opacity="0.45" stroke="#ff5a10" stroke-width="1.5"/>
<path d="M542.7 152.9L545.3 156.5L542.7 160.1L540.1 156.5Z" fill="#ff5a10" fill-opacity="0.45" stroke="#ff5a10" stroke-width="1.5"/>
<path d="M542.5 145.7L545.1 149.3L542.5 152.9L539.9 149.3Z" fill="#ff5a10" fill-opacity="0.45" stroke="#ff5a10" stroke-width="1.5"/>
<path d="M542.3 138.5L544.9 142.1L542.3 145.7L539.7 142.1Z" fill="#ff5a10" fill-opacity="0.45" stroke="#ff5a10" stroke-width="1.5"/>
<path d="M542.2 131.3L544.8 134.9L542.2 138.5L539.6 134.9Z" fill="#ff5a10" fill-opacity="0.45" stroke="#ff5a10" stroke-width="1.5"/>
<path d="M542.0 124.0L544.6 127.6L542.0 131.2L539.4 127.6Z" fill="#ff5a10" fill-opacity="0.45" stroke="#ff5a10" stroke-width="1.5"/>
<path d="M541.8 116.8L544.4 120.4L541.8 124.0L539.2 120.4Z" fill="#ff5a10" fill-opacity="0.45" stroke="#ff5a10" stroke-width="1.5"/>
<path d="M541.6 109.6L544.2 113.2L541.6 116.8L539.0 113.2Z" fill="#ff5a10" fill-opacity="0.45" stroke="#ff5a10" stroke-width="1.5"/>
<path d="M541.4 102.4L544.0 106.0L541.4 109.6L538.8 106.0Z" fill="#ff5a10" fill-opacity="0.45" stroke="#ff5a10" stroke-width="1.5"/>
<path d="M541.3 95.2L543.9 98.8L541.3 102.4L538.7 98.8Z" fill="#ff5a10" fill-opacity="0.45" stroke="#ff5a10" stroke-width="1.5"/>
<path d="M541.1 87.9L543.7 91.5L541.1 95.1L538.5 91.5Z" fill="#ff5a10" fill-opacity="0.45" stroke="#ff5a10" stroke-width="1.5"/>
<path d="M540.9 80.7L543.5 84.3L540.9 87.9L538.3 84.3Z" fill="#ff5a10" fill-opacity="0.45" stroke="#ff5a10" stroke-width="1.5"/>
<path d="M540.7 73.5L543.3 77.1L540.7 80.7L538.1 77.1Z" fill="#ff5a10" fill-opacity="0.45" stroke="#ff5a10" stroke-width="1.5"/>
<path d="M540.5 66.3L543.1 69.9L540.5 73.5L537.9 69.9Z" fill="#ff5a10" fill-opacity="0.45" stroke="#ff5a10" stroke-width="1.5"/>
<path d="M540.4 59.0L543.0 62.6L540.4 66.2L537.8 62.6Z" fill="#ff5a10" fill-opacity="0.45" stroke="#ff5a10" stroke-width="1.5"/>
<path d="M540.2 51.8L542.8 55.4L540.2 59.0L537.6 55.4Z" fill="#ff5a10" fill-opacity="0.45" stroke="#ff5a10" stroke-width="1.5"/>
<path d="M540.0 44.6L542.6 48.2L540.0 51.8L537.4 48.2Z" fill="#ff5a10" fill-opacity="0.45" stroke="#ff5a10" stroke-width="1.5"/>
<polyline points="422.9,243.4 467.6,235.6 496.5,228.8 508.5,221.5 517.9,214.3 525.3,207.1 531.1,199.9 535.5,192.6 538.3,185.4 540.0,178.2 541.0,171.0 541.5,163.8 541.7,156.5 541.5,149.3 541.2,142.1 541.0,134.9 540.8,127.6 540.5,120.4 540.3,113.2 540.1,106.0 539.8,98.8 539.6,91.5 539.4,84.3 539.1,77.1 538.9,69.9 538.7,62.6 538.4,55.4 538.2,48.2" fill="none" stroke="#8c0a0a" stroke-width="1.8" stroke-linejoin="round" clip-path="url(#cc)"/>
<path d="M419.8 241.5L425.9 241.5L422.9 247.1Z" fill="#8c0a0a" fill-opacity="0.75" stroke="#8c0a0a" stroke-width="1.5"/>
<path d="M464.6 233.7L470.7 233.7L467.6 239.3Z" fill="#8c0a0a" fill-opacity="0.75" stroke="#8c0a0a" stroke-width="1.5"/>
<path d="M493.4 226.9L499.6 226.9L496.5 232.5Z" fill="#8c0a0a" fill-opacity="0.75" stroke="#8c0a0a" stroke-width="1.5"/>
<path d="M505.4 219.6L511.6 219.6L508.5 225.2Z" fill="#8c0a0a" fill-opacity="0.75" stroke="#8c0a0a" stroke-width="1.5"/>
<path d="M514.9 212.4L520.9 212.4L517.9 218.0Z" fill="#8c0a0a" fill-opacity="0.75" stroke="#8c0a0a" stroke-width="1.5"/>
<path d="M522.2 205.2L528.3 205.2L525.3 210.8Z" fill="#8c0a0a" fill-opacity="0.75" stroke="#8c0a0a" stroke-width="1.5"/>
<path d="M528.1 198.0L534.1 198.0L531.1 203.6Z" fill="#8c0a0a" fill-opacity="0.75" stroke="#8c0a0a" stroke-width="1.5"/>
<path d="M532.5 190.7L538.5 190.7L535.5 196.3Z" fill="#8c0a0a" fill-opacity="0.75" stroke="#8c0a0a" stroke-width="1.5"/>
<path d="M535.2 183.5L541.3 183.5L538.3 189.1Z" fill="#8c0a0a" fill-opacity="0.75" stroke="#8c0a0a" stroke-width="1.5"/>
<path d="M537.0 176.3L543.0 176.3L540.0 181.9Z" fill="#8c0a0a" fill-opacity="0.75" stroke="#8c0a0a" stroke-width="1.5"/>
<path d="M538.0 169.1L544.0 169.1L541.0 174.7Z" fill="#8c0a0a" fill-opacity="0.75" stroke="#8c0a0a" stroke-width="1.5"/>
<path d="M538.5 161.9L544.5 161.9L541.5 167.5Z" fill="#8c0a0a" fill-opacity="0.75" stroke="#8c0a0a" stroke-width="1.5"/>
<path d="M538.7 154.6L544.8 154.6L541.7 160.2Z" fill="#8c0a0a" fill-opacity="0.75" stroke="#8c0a0a" stroke-width="1.5"/>
<path d="M538.4 147.4L544.5 147.4L541.5 153.0Z" fill="#8c0a0a" fill-opacity="0.75" stroke="#8c0a0a" stroke-width="1.5"/>
<path d="M538.2 140.2L544.3 140.2L541.2 145.8Z" fill="#8c0a0a" fill-opacity="0.75" stroke="#8c0a0a" stroke-width="1.5"/>
<path d="M538.0 133.0L544.0 133.0L541.0 138.6Z" fill="#8c0a0a" fill-opacity="0.75" stroke="#8c0a0a" stroke-width="1.5"/>
<path d="M537.7 125.7L543.8 125.7L540.8 131.3Z" fill="#8c0a0a" fill-opacity="0.75" stroke="#8c0a0a" stroke-width="1.5"/>
<path d="M537.5 118.5L543.6 118.5L540.5 124.1Z" fill="#8c0a0a" fill-opacity="0.75" stroke="#8c0a0a" stroke-width="1.5"/>
<path d="M537.3 111.3L543.4 111.3L540.3 116.9Z" fill="#8c0a0a" fill-opacity="0.75" stroke="#8c0a0a" stroke-width="1.5"/>
<path d="M537.0 104.1L543.1 104.1L540.1 109.7Z" fill="#8c0a0a" fill-opacity="0.75" stroke="#8c0a0a" stroke-width="1.5"/>
<path d="M536.8 96.9L542.9 96.9L539.8 102.5Z" fill="#8c0a0a" fill-opacity="0.75" stroke="#8c0a0a" stroke-width="1.5"/>
<path d="M536.6 89.6L542.6 89.6L539.6 95.2Z" fill="#8c0a0a" fill-opacity="0.75" stroke="#8c0a0a" stroke-width="1.5"/>
<path d="M536.3 82.4L542.4 82.4L539.4 88.0Z" fill="#8c0a0a" fill-opacity="0.75" stroke="#8c0a0a" stroke-width="1.5"/>
<path d="M536.1 75.2L542.2 75.2L539.1 80.8Z" fill="#8c0a0a" fill-opacity="0.75" stroke="#8c0a0a" stroke-width="1.5"/>
<path d="M535.9 68.0L542.0 68.0L538.9 73.6Z" fill="#8c0a0a" fill-opacity="0.75" stroke="#8c0a0a" stroke-width="1.5"/>
<path d="M535.6 60.7L541.7 60.7L538.7 66.3Z" fill="#8c0a0a" fill-opacity="0.75" stroke="#8c0a0a" stroke-width="1.5"/>
<path d="M535.4 53.5L541.5 53.5L538.4 59.1Z" fill="#8c0a0a" fill-opacity="0.75" stroke="#8c0a0a" stroke-width="1.5"/>
<path d="M535.2 46.3L541.2 46.3L538.2 51.9Z" fill="#8c0a0a" fill-opacity="0.75" stroke="#8c0a0a" stroke-width="1.5"/>
<text x="412.8" y="264.4" text-anchor="middle" class="tk">0.9</text>
<text x="474.9" y="264.4" text-anchor="middle" class="tk">0.95</text>
<text x="543.2" y="264.4" text-anchor="middle" class="tk">1</text>
<text x="408.2" y="252.6" text-anchor="end" class="tk">0</text>
<text x="408.2" y="212.8" text-anchor="end" class="tk">0.1</text>
<text x="408.2" y="173.1" text-anchor="end" class="tk">0.2</text>
<text x="408.2" y="133.3" text-anchor="end" class="tk">0.3</text>
<text x="408.2" y="93.6" text-anchor="end" class="tk">0.4</text>
<text x="408.2" y="53.8" text-anchor="end" class="tk">0.5</text>
<rect x="5.3" y="3.4" width="390.5" height="36.0" fill="#fff" stroke="#555" stroke-width="1.2"/>
<line x1="9.9" y1="13.4" x2="57.9" y2="13.4" stroke="#2e8fff" stroke-width="1.5"/>
<circle cx="33.9" cy="13.4" r="2.35" fill="none" stroke="#2e8fff" stroke-width="1.3"/>
<text class="lg"><tspan x="62.57" y="17.20" font-style="italic" style="font-size:13.2px">y</tspan><tspan x="68.75" y="19.80" style="font-size:18.0px">/</tspan><tspan x="74.39" y="17.20" font-style="italic" style="font-size:13.2px">g</tspan><tspan> </tspan><tspan x="84.12" y="19.60" style="font-size:17.8px">=</tspan><tspan> </tspan><tspan x="98.22" y="19.60" style="font-size:17.8px">−</tspan><tspan x="108.90" y="17.20" style="font-size:12.8px">1.00</tspan></text>
<line x1="9.9" y1="29.5" x2="57.9" y2="29.5" stroke="#3df07a" stroke-width="1.5"/>
<rect x="31.3" y="26.9" width="5.1" height="5.1" fill="none" stroke="#3df07a" stroke-width="1.3"/>
<text class="lg"><tspan x="62.57" y="33.30" font-style="italic" style="font-size:13.2px">y</tspan><tspan x="68.75" y="35.90" style="font-size:18.0px">/</tspan><tspan x="74.39" y="33.30" font-style="italic" style="font-size:13.2px">g</tspan><tspan> </tspan><tspan x="84.12" y="35.70" style="font-size:17.8px">=</tspan><tspan> </tspan><tspan x="98.22" y="35.70" style="font-size:17.8px">−</tspan><tspan x="108.90" y="33.30" style="font-size:12.8px">0.50</tspan></text>
<line x1="139.9" y1="13.4" x2="187.9" y2="13.4" stroke="#dede35" stroke-width="1.5"/>
<path d="M161.5 15.2L166.3 15.2L163.9 10.2Z" fill="#dede35" fill-opacity="0.55" stroke="#dede35" stroke-width="1.5"/>
<text class="lg"><tspan x="192.57" y="17.20" font-style="italic" style="font-size:13.2px">y</tspan><tspan x="198.75" y="19.80" style="font-size:18.0px">/</tspan><tspan x="204.39" y="17.20" font-style="italic" style="font-size:13.2px">g</tspan><tspan> </tspan><tspan x="214.12" y="19.60" style="font-size:17.8px">=</tspan><tspan> </tspan><tspan x="228.80" y="17.20" style="font-size:12.8px">0.00</tspan></text>
<line x1="139.9" y1="29.5" x2="187.9" y2="29.5" stroke="#ff5a10" stroke-width="1.5"/>
<path d="M163.9 25.9L166.5 29.5L163.9 33.1L161.3 29.5Z" fill="#ff5a10" fill-opacity="0.45" stroke="#ff5a10" stroke-width="1.5"/>
<text class="lg"><tspan x="192.57" y="33.30" font-style="italic" style="font-size:13.2px">y</tspan><tspan x="198.75" y="35.90" style="font-size:18.0px">/</tspan><tspan x="204.39" y="33.30" font-style="italic" style="font-size:13.2px">g</tspan><tspan> </tspan><tspan x="214.12" y="35.70" style="font-size:17.8px">=</tspan><tspan> </tspan><tspan x="228.22" y="35.70" style="font-size:17.8px">+</tspan><tspan x="238.90" y="33.30" style="font-size:12.8px">0.50</tspan></text>
<line x1="270.4" y1="13.4" x2="318.4" y2="13.4" stroke="#8c0a0a" stroke-width="1.5"/>
<path d="M291.3 11.5L297.4 11.5L294.4 17.1Z" fill="#8c0a0a" fill-opacity="0.75" stroke="#8c0a0a" stroke-width="1.5"/>
<text class="lg"><tspan x="323.07" y="17.20" font-style="italic" style="font-size:13.2px">y</tspan><tspan x="329.25" y="19.80" style="font-size:18.0px">/</tspan><tspan x="334.89" y="17.20" font-style="italic" style="font-size:13.2px">g</tspan><tspan> </tspan><tspan x="344.62" y="19.60" style="font-size:17.8px">=</tspan><tspan> </tspan><tspan x="358.72" y="19.60" style="font-size:17.8px">+</tspan><tspan x="369.40" y="17.20" style="font-size:12.8px">1.00</tspan></text>
<g transform="translate(16.3,176.8) rotate(-90)">
<text class="lb"><tspan x="0.44" y="0.00" font-style="italic" style="font-size:15.4px">z</tspan><tspan x="7.81" y="3.60" style="font-size:24.0px">/</tspan><tspan x="16.90" y="0.00" font-style="italic" style="font-size:15.6px">H</tspan></text>
<text transform="translate(38.50,1.20) scale(0.655,1)" class="lb" style="font-size:18.5px">[</text>
<text transform="translate(42.22,1.30) scale(1.037,1)" class="lb" style="font-size:17px">−</text>
<text transform="translate(51.86,1.20) scale(0.655,1)" class="lb" style="font-size:18.5px">]</text>
</g>
<g transform="translate(198.5,176.8) rotate(-90)">
<text class="lb"><tspan x="0.44" y="0.00" font-style="italic" style="font-size:15.4px">z</tspan><tspan x="7.81" y="3.60" style="font-size:24.0px">/</tspan><tspan x="16.90" y="0.00" font-style="italic" style="font-size:15.6px">H</tspan></text>
<text transform="translate(38.50,1.20) scale(0.655,1)" class="lb" style="font-size:18.5px">[</text>
<text transform="translate(42.22,1.30) scale(1.037,1)" class="lb" style="font-size:17px">−</text>
<text transform="translate(51.86,1.20) scale(0.655,1)" class="lb" style="font-size:18.5px">]</text>
</g>
<g transform="translate(380.5,175.7) rotate(-90)">
<text class="lb"><tspan x="0.44" y="0.00" font-style="italic" style="font-size:15.4px">z</tspan><tspan x="7.81" y="3.60" style="font-size:24.0px">/</tspan><tspan x="16.90" y="0.00" font-style="italic" style="font-size:15.6px">H</tspan></text>
<text transform="translate(38.50,1.20) scale(0.655,1)" class="lb" style="font-size:18.5px">[</text>
<text transform="translate(42.22,1.30) scale(1.037,1)" class="lb" style="font-size:17px">−</text>
<text transform="translate(51.86,1.20) scale(0.655,1)" class="lb" style="font-size:18.5px">]</text>
</g>
<text class="lb" transform="scale(1.16,1)"><tspan x="77.05" y="279.00" font-style="italic" style="font-size:14.6px">i</tspan><tspan x="81.91" y="279.00" font-style="italic" style="font-size:14.6px">n</tspan><tspan x="89.46" y="279.00" font-style="italic" style="font-size:14.6px">c</tspan></text>
<text transform="translate(118.90,280.20) scale(0.655,1)" class="lb" style="font-size:18.5px">[</text>
<text x="123.12" y="276.30" class="lb" style="font-size:10.9px">°</text>
<text transform="translate(128.16,280.20) scale(0.655,1)" class="lb" style="font-size:18.5px">]</text>
<text class="lb"><tspan x="278.77" y="279.00" font-style="italic" style="font-size:16.5px">γ</tspan></text>
<text transform="translate(295.80,280.20) scale(0.655,1)" class="lb" style="font-size:18.5px">[</text>
<text x="300.12" y="276.30" class="lb" style="font-size:10.9px">°</text>
<text transform="translate(305.26,280.20) scale(0.655,1)" class="lb" style="font-size:18.5px">]</text>
<text class="lb"><tspan x="431.13" y="280.00" font-style="italic" style="font-size:15.4px">P</tspan><tspan x="438.90" y="282.70" style="font-size:11.2px">02</tspan><tspan x="451.76" y="283.60" style="font-size:24.0px">/</tspan><tspan x="459.53" y="280.00" font-style="italic" style="font-size:15.4px">P</tspan><tspan x="467.60" y="282.70" style="font-size:11.2px">01,</tspan><tspan x="483.98" y="282.70" font-style="italic" style="font-size:12.5px">f</tspan><tspan x="490.48" y="282.70" font-style="italic" style="font-size:12.5px">s</tspan></text>
<text transform="translate(504.20,281.20) scale(0.655,1)" class="lb" style="font-size:18.5px">[</text>
<text transform="translate(509.22,281.30) scale(1.037,1)" class="lb" style="font-size:17px">−</text>
<text transform="translate(520.16,281.20) scale(0.655,1)" class="lb" style="font-size:18.5px">]</text>
<text x="93.3" y="306.3" text-anchor="middle" class="cap">(a)</text>
<text x="275.8" y="306.2" text-anchor="middle" class="cap">(b)</text>
<text x="458.0" y="309.0" text-anchor="middle" class="cap">(c)</text>
</svg>
</body></html>
